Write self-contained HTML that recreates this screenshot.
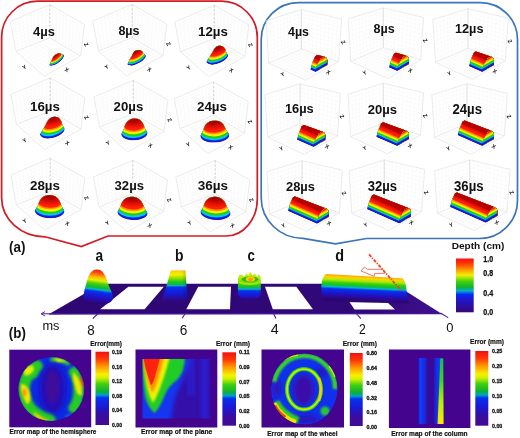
<!DOCTYPE html>
<html><head><meta charset="utf-8"><title>figure</title>
<style>
html,body{margin:0;padding:0;background:#fff;}
svg{display:block;font-family:"Liberation Sans",sans-serif;}
</style></head><body>
<svg width="520" height="438" viewBox="0 0 520 438">
<defs>
<radialGradient id="redg" cx="0.5" cy="0.3" r="0.55"><stop offset="0" stop-color="#980000"/><stop offset="0.5" stop-color="#d80c04"/><stop offset="1" stop-color="#ff2008"/></radialGradient>
<clipPath id="dc1"><path d="M-1.000,0.150 C-0.800,-0.280 -0.600,-0.630 -0.450,-0.868 C-0.300,-1.190 -0.200,-1.400 0.000,-1.400 C0.420,-1.400 0.660,-1.050 0.760,-0.588 C0.820,-0.350 0.910,-0.168 1.000,0.000 C1,0.55 0.55,1 0,1 C-0.500,1 -0.800,0.650 -1.000,0.150 Z"/></clipPath>
<clipPath id="dc2"><path d="M-1.000,0.188 C-0.772,-0.451 -0.545,-1.025 -0.372,-1.373 C-0.210,-1.794 -0.145,-2.050 -0.000,-2.050 C0.420,-2.050 0.660,-1.537 0.760,-0.861 C0.820,-0.512 0.910,-0.246 1.000,0.000 C1,0.55 0.55,1 0,1 C-0.488,1 -0.750,0.675 -1.000,0.188 Z"/></clipPath>
<clipPath id="dc3"><path d="M-1.000,0.135 C-0.811,-0.422 -0.622,-0.946 -0.481,-1.320 C-0.336,-1.848 -0.222,-2.200 -0.000,-2.200 C0.420,-2.200 0.660,-1.650 0.760,-0.924 C0.820,-0.550 0.910,-0.264 1.000,0.000 C1,0.55 0.55,1 0,1 C-0.505,1 -0.820,0.640 -1.000,0.135 Z"/></clipPath>
<clipPath id="dc4"><path d="M-1.000,0.090 C-0.844,-0.370 -0.688,-0.814 -0.574,-1.188 C-0.444,-1.782 -0.288,-2.200 -0.000,-2.200 C0.420,-2.200 0.660,-1.650 0.760,-0.924 C0.820,-0.550 0.910,-0.264 1.000,0.000 C1,0.55 0.55,1 0,1 C-0.520,1 -0.880,0.610 -1.000,0.090 Z"/></clipPath>
<clipPath id="dc5"><path d="M-1.000,0.000 C-0.910,-0.258 -0.820,-0.537 -0.760,-0.903 C-0.660,-1.612 -0.420,-2.150 0.000,-2.150 C0.420,-2.150 0.660,-1.612 0.760,-0.903 C0.820,-0.537 0.910,-0.258 1.000,0.000 C1,0.55 0.55,1 0,1 C-0.550,1 -1.000,0.550 -1.000,0.000 Z"/></clipPath>
<clipPath id="dc6"><path d="M-1.000,0.000 C-0.910,-0.240 -0.820,-0.500 -0.760,-0.840 C-0.660,-1.500 -0.420,-2.000 0.000,-2.000 C0.420,-2.000 0.660,-1.500 0.760,-0.840 C0.820,-0.500 0.910,-0.240 1.000,0.000 C1,0.55 0.55,1 0,1 C-0.550,1 -1.000,0.550 -1.000,0.000 Z"/></clipPath>
<clipPath id="dc7"><path d="M-1.000,0.000 C-0.910,-0.252 -0.820,-0.525 -0.760,-0.882 C-0.660,-1.575 -0.420,-2.100 0.000,-2.100 C0.420,-2.100 0.660,-1.575 0.760,-0.882 C0.820,-0.525 0.910,-0.252 1.000,0.000 C1,0.55 0.55,1 0,1 C-0.550,1 -1.000,0.550 -1.000,0.000 Z"/></clipPath>
<clipPath id="dc8"><path d="M-1.000,0.000 C-0.910,-0.248 -0.820,-0.517 -0.760,-0.869 C-0.660,-1.552 -0.420,-2.070 0.000,-2.070 C0.420,-2.070 0.660,-1.552 0.760,-0.869 C0.820,-0.517 0.910,-0.248 1.000,0.000 C1,0.55 0.55,1 0,1 C-0.550,1 -1.000,0.550 -1.000,0.000 Z"/></clipPath>
<clipPath id="dc9"><path d="M-1.000,0.000 C-0.910,-0.248 -0.820,-0.517 -0.760,-0.869 C-0.660,-1.552 -0.420,-2.070 0.000,-2.070 C0.420,-2.070 0.660,-1.552 0.760,-0.869 C0.820,-0.517 0.910,-0.248 1.000,0.000 C1,0.55 0.55,1 0,1 C-0.550,1 -1.000,0.550 -1.000,0.000 Z"/></clipPath>
<clipPath id="pc1"><polygon points="310.4,69.8 315.3,72.0 327.3,65.1 327.3,60.0 326.3,57.7 323.8,56.4 317.2,55.1 315.4,56.3 312.6,62.3"/></clipPath>
<clipPath id="pf1"><polygon points="315.3,72.0 327.3,65.1 327.3,60.0 326.3,57.7 323.8,56.4 321.3,58.2 317.8,63.8 315.6,69.0"/></clipPath>
<clipPath id="pc2"><polygon points="389.0,67.5 397.0,71.0 409.0,64.1 409.0,59.0 408.0,56.7 405.5,55.4 395.8,52.8 394.0,54.0 391.2,60.0"/></clipPath>
<clipPath id="pf2"><polygon points="397.0,71.0 409.0,64.1 409.0,59.0 408.0,56.7 405.5,55.4 403.0,57.2 399.5,62.8 397.3,68.0"/></clipPath>
<clipPath id="pc3"><polygon points="469.0,66.3 482.0,72.0 494.0,65.1 494.0,60.0 493.0,57.7 490.5,56.4 475.8,51.6 474.0,52.8 471.2,58.8"/></clipPath>
<clipPath id="pf3"><polygon points="482.0,72.0 494.0,65.1 494.0,60.0 493.0,57.7 490.5,56.4 488.0,58.2 484.5,63.8 482.3,69.0"/></clipPath>
<clipPath id="pc4"><polygon points="297.0,139.8 313.3,147.0 325.3,140.1 325.3,135.0 324.3,132.7 321.8,131.4 303.8,125.1 302.0,126.3 299.2,132.3"/></clipPath>
<clipPath id="pf4"><polygon points="313.3,147.0 325.3,140.1 325.3,135.0 324.3,132.7 321.8,131.4 319.3,133.2 315.8,138.8 313.6,144.0"/></clipPath>
<clipPath id="pc5"><polygon points="376.3,136.9 397.0,146.0 409.0,139.1 409.0,134.0 408.0,131.7 405.5,130.4 383.1,122.2 381.3,123.4 378.5,129.4"/></clipPath>
<clipPath id="pf5"><polygon points="397.0,146.0 409.0,139.1 409.0,134.0 408.0,131.7 405.5,130.4 403.0,132.2 399.5,137.8 397.3,143.0"/></clipPath>
<clipPath id="pc6"><polygon points="457.7,135.3 482.0,146.0 494.0,139.1 494.0,134.0 493.0,131.7 490.5,130.4 464.5,120.6 462.7,121.8 459.9,127.8"/></clipPath>
<clipPath id="pf6"><polygon points="482.0,146.0 494.0,139.1 494.0,134.0 493.0,131.7 490.5,130.4 488.0,132.2 484.5,137.8 482.3,143.0"/></clipPath>
<clipPath id="pc7"><polygon points="288.0,211.1 316.8,223.8 328.8,216.8 328.8,211.8 327.8,209.4 325.2,208.2 294.8,196.4 293.0,197.6 290.2,203.6"/></clipPath>
<clipPath id="pf7"><polygon points="316.8,223.8 328.8,216.8 328.8,211.8 327.8,209.4 325.2,208.2 322.8,209.9 319.2,215.6 317.1,220.8"/></clipPath>
<clipPath id="pc8"><polygon points="367.0,209.3 399.0,223.4 411.0,216.5 411.0,211.4 410.0,209.1 407.5,207.8 373.8,194.6 372.0,195.8 369.2,201.8"/></clipPath>
<clipPath id="pf8"><polygon points="399.0,223.4 411.0,216.5 411.0,211.4 410.0,209.1 407.5,207.8 405.0,209.6 401.5,215.2 399.3,220.4"/></clipPath>
<clipPath id="pc9"><polygon points="450.0,207.1 485.5,222.7 497.5,215.8 497.5,210.7 496.5,208.4 494.0,207.1 456.8,192.4 455.0,193.6 452.2,199.6"/></clipPath>
<clipPath id="pf9"><polygon points="485.5,222.7 497.5,215.8 497.5,210.7 496.5,208.4 494.0,207.1 491.5,208.9 488.0,214.5 485.8,219.7"/></clipPath>
<linearGradient id="planeg" x1="0" x2="1" y1="0" y2="0"><stop offset="0" stop-color="#2e0674"/><stop offset="0.8" stop-color="#300878"/><stop offset="1" stop-color="#40108c"/></linearGradient>
<linearGradient id="humpg" gradientUnits="userSpaceOnUse" x1="97" y1="269.5" x2="92.5" y2="304.5">
<stop offset="0" stop-color="#f02010"/><stop offset="0.10" stop-color="#ff5010"/><stop offset="0.20" stop-color="#ffb000"/><stop offset="0.30" stop-color="#e8f000"/>
<stop offset="0.40" stop-color="#40d010"/><stop offset="0.51" stop-color="#10b830"/><stop offset="0.56" stop-color="#00b8d0"/><stop offset="0.62" stop-color="#0830f0"/>
<stop offset="0.80" stop-color="#2010c0"/><stop offset="0.95" stop-color="#2e0674"/><stop offset="1" stop-color="#2e0674"/></linearGradient>
<linearGradient id="blkg" gradientUnits="userSpaceOnUse" x1="0" y1="270.4" x2="0" y2="302">
<stop offset="0" stop-color="#ffb000"/><stop offset="0.04" stop-color="#ffd800"/><stop offset="0.14" stop-color="#f0f000"/><stop offset="0.25" stop-color="#90e000"/><stop offset="0.36" stop-color="#20c820"/>
<stop offset="0.45" stop-color="#10b840"/><stop offset="0.48" stop-color="#00b0d0"/><stop offset="0.53" stop-color="#0830f0"/><stop offset="0.75" stop-color="#1818d0"/><stop offset="0.9" stop-color="#2c0c98"/><stop offset="1" stop-color="#2e0674"/></linearGradient>
<linearGradient id="blks" x1="0" x2="1" y1="0" y2="0"><stop offset="0" stop-color="#000" stop-opacity="0"/><stop offset="1" stop-color="#002040" stop-opacity="0.28"/></linearGradient>
<linearGradient id="cylg" gradientUnits="userSpaceOnUse" x1="0" y1="271.3" x2="0" y2="300">
<stop offset="0" stop-color="#d8f000"/><stop offset="0.25" stop-color="#b0ec00"/><stop offset="0.42" stop-color="#50d810"/><stop offset="0.55" stop-color="#10c030"/>
<stop offset="0.62" stop-color="#00b0d0"/><stop offset="0.68" stop-color="#0830f0"/><stop offset="0.88" stop-color="#1c14c8"/><stop offset="1" stop-color="#2e0674"/></linearGradient>
<linearGradient id="colg" gradientUnits="userSpaceOnUse" x1="360" y1="275.6" x2="358.7" y2="303.6">
<stop offset="0" stop-color="#ffa000"/><stop offset="0.10" stop-color="#f8d800"/><stop offset="0.19" stop-color="#b0e800"/><stop offset="0.29" stop-color="#30d010"/><stop offset="0.38" stop-color="#10c030"/>
<stop offset="0.44" stop-color="#00b8d0"/><stop offset="0.51" stop-color="#0830f0"/><stop offset="0.70" stop-color="#2010c0"/><stop offset="0.86" stop-color="#2e0674"/><stop offset="1" stop-color="#2e0674"/></linearGradient>
<linearGradient id="depthg" x1="0" x2="0" y1="0" y2="1">
<stop offset="0" stop-color="#f81010"/><stop offset="0.08" stop-color="#ff3008"/><stop offset="0.2" stop-color="#ff9000"/><stop offset="0.31" stop-color="#f0f000"/>
<stop offset="0.43" stop-color="#40d010"/><stop offset="0.54" stop-color="#10b030"/><stop offset="0.60" stop-color="#00b0d8"/><stop offset="0.67" stop-color="#0828f0"/>
<stop offset="0.82" stop-color="#2810b8"/><stop offset="1" stop-color="#380878"/></linearGradient>
<linearGradient id="errg" x1="0" x2="0" y1="0" y2="1">
<stop offset="0" stop-color="#f01010"/><stop offset="0.10" stop-color="#ff3808"/><stop offset="0.20" stop-color="#ff9800"/><stop offset="0.31" stop-color="#f8f000"/><stop offset="0.36" stop-color="#d0f000"/>
<stop offset="0.44" stop-color="#40d010"/><stop offset="0.54" stop-color="#10b030"/><stop offset="0.59" stop-color="#00a0c8"/><stop offset="0.63" stop-color="#0830f0"/>
<stop offset="0.76" stop-color="#1c18d0"/><stop offset="0.87" stop-color="#3a0ca0"/><stop offset="1" stop-color="#440a94"/></linearGradient>
<filter id="b15" x="-30%" y="-30%" width="160%" height="160%"><feGaussianBlur stdDeviation="1.6"/></filter>
<filter id="b1" x="-30%" y="-30%" width="160%" height="160%"><feGaussianBlur stdDeviation="1.2"/></filter>
<filter id="b2" x="-30%" y="-30%" width="160%" height="160%"><feGaussianBlur stdDeviation="2.2"/></filter>
<filter id="b3" x="-30%" y="-30%" width="160%" height="160%"><feGaussianBlur stdDeviation="0.7"/></filter>

<clipPath id="c1"><ellipse cx="51.3" cy="389" rx="33" ry="32"/></clipPath>
<clipPath id="c2"><rect x="142.5" y="359" width="68.1" height="59.5"/></clipPath>
<clipPath id="c3"><ellipse cx="304.3" cy="389" rx="33.3" ry="35.6"/></clipPath>
<linearGradient id="bar1" x1="0" x2="1" y1="0" y2="0"><stop offset="0" stop-color="#2418c4"/><stop offset="0.18" stop-color="#0c40fc"/><stop offset="0.6" stop-color="#1430e8"/><stop offset="1" stop-color="#3012ac"/></linearGradient>
<linearGradient id="bar2" x1="0" x2="1" y1="0" y2="0"><stop offset="0" stop-color="#2816bc"/><stop offset="0.3" stop-color="#1430e8"/><stop offset="0.7" stop-color="#0c44fc"/><stop offset="1" stop-color="#1a30e0"/></linearGradient>
<linearGradient id="wedge" x1="0" x2="0" y1="0" y2="1"><stop offset="0" stop-color="#18c040"/><stop offset="0.35" stop-color="#40d418"/><stop offset="0.65" stop-color="#b8ec00"/><stop offset="1" stop-color="#ffe800"/></linearGradient>
</defs>
<rect width="520" height="438" fill="#fff"/>
<path d="M37.6,1.2 L221.3,1.2 A36,36 0 0 1 257.3,37.2 L257.3,199 A31,37 0 0 1 226.3,236 L108,236 L81.3,246.5 L45,236.8 A43.4,39 0 0 1 1.6,197.8 L1.6,37.2 A36,36 0 0 1 37.6,1.2 Z" fill="none" stroke="#d41a24" stroke-width="1.7"/>
<path d="M298.2,2.6 L480.5,2.6 A37,37 0 0 1 517.5,39.6 L517.5,200.5 A38,38 0 0 1 479.5,238.5 L366.5,238.5 L335.4,243.8 L303,238.3 A41.8,40.3 0 0 1 261.2,198 L261.2,39.6 A37,37 0 0 1 298.2,2.6 Z" fill="none" stroke="#3a76b8" stroke-width="1.7"/>
<path d="M45.9,6.3L46.4,39.2M49.8,7.9L11.0,24.4M41.9,8.0L43.0,40.6M49.8,11.3L11.5,27.4M38.0,9.6L39.7,41.9M49.8,14.6L12.1,30.4M34.0,11.3L36.3,43.3M49.8,17.9L12.6,33.4M30.1,13.0L32.9,44.6M49.8,21.2L13.2,36.4M26.2,14.7L29.5,45.9M49.8,24.6L13.8,39.3M22.2,16.4L26.1,47.3M49.8,27.9L14.3,42.3M18.3,18.0L22.8,48.6M49.8,31.2L14.9,45.3M14.3,19.7L19.4,50.0M49.8,34.6L15.4,48.3" stroke="#f6f6f6" stroke-width="0.45" fill="none"/>
<path d="M53.3,6.6L52.9,39.7M49.8,7.9L84.0,27.6M56.7,8.6L56.0,41.5M49.8,11.3L83.6,30.7M60.2,10.5L59.0,43.3M49.8,14.6L83.3,33.9M63.6,12.5L62.1,45.1M49.8,17.9L82.9,37.0M67.1,14.5L65.2,47.0M49.8,21.2L82.5,40.2M70.6,16.5L68.3,48.8M49.8,24.6L82.1,43.4M74.0,18.5L71.4,50.6M49.8,27.9L81.7,46.5M77.5,20.4L74.4,52.4M49.8,31.2L81.4,49.7M80.9,22.4L77.5,54.2M49.8,34.6L81.0,52.8" stroke="#f6f6f6" stroke-width="0.45" fill="none"/>
<path d="M46.4,39.2L77.0,58.0M52.9,39.7L18.8,53.8M43.0,40.6L73.3,60.1M56.0,41.5L21.6,56.3M39.7,41.9L69.7,62.1M59.0,43.3L24.5,58.8M36.3,43.3L66.0,64.1M62.1,45.1L27.3,61.3M32.9,44.6L62.4,66.2M65.2,47.0L30.1,63.8M29.5,45.9L58.8,68.2M68.3,48.8L32.9,66.3M26.1,47.3L55.1,70.2M71.4,50.6L35.7,68.8M22.8,48.6L51.5,72.2M74.4,52.4L38.6,71.3M19.4,50.0L47.8,74.3M77.5,54.2L41.4,73.8" stroke="#f6f6f6" stroke-width="0.45" fill="none"/>
<line x1="49.8" y1="4.6" x2="10.4" y2="21.4" stroke="#e2e2e2" stroke-width="0.7"/>
<line x1="49.8" y1="4.6" x2="84.4" y2="24.4" stroke="#e2e2e2" stroke-width="0.7"/>
<line x1="10.4" y1="21.4" x2="16.0" y2="51.3" stroke="#e2e2e2" stroke-width="0.7"/>
<line x1="84.4" y1="24.4" x2="80.6" y2="56.0" stroke="#e2e2e2" stroke-width="0.7"/>
<line x1="16.0" y1="51.3" x2="44.2" y2="76.3" stroke="#e2e2e2" stroke-width="0.7"/>
<line x1="80.6" y1="56.0" x2="44.2" y2="76.3" stroke="#e2e2e2" stroke-width="0.7"/>
<line x1="49.8" y1="37.9" x2="16.0" y2="51.3" stroke="#e2e2e2" stroke-width="0.7"/>
<line x1="49.8" y1="37.9" x2="80.6" y2="56.0" stroke="#e2e2e2" stroke-width="0.7"/>
<line x1="49.8" y1="4.6" x2="49.8" y2="37.9" stroke="#c4c4c4" stroke-width="0.8" stroke-dasharray="2.5 1.5"/>
<text x="0" y="1.95" font-size="5.5" font-weight="bold" fill="#111" text-anchor="middle" transform="translate(24.3,67.2) rotate(-30)">Y</text>
<text x="0" y="1.95" font-size="5.5" font-weight="bold" fill="#111" text-anchor="middle" transform="translate(66.8,69.8) rotate(30)">X</text>
<text x="0" y="1.95" font-size="5.5" font-weight="bold" fill="#111" text-anchor="middle" transform="translate(86.2,44.4) rotate(60)">Z</text>
<path d="M128.3,6.0L128.8,38.9M132.2,7.6L93.4,24.1M124.3,7.7L125.4,40.3M132.2,11.0L93.9,27.1M120.4,9.3L122.1,41.6M132.2,14.3L94.5,30.1M116.4,11.0L118.7,43.0M132.2,17.6L95.0,33.1M112.5,12.7L115.3,44.3M132.2,20.9L95.6,36.0M108.6,14.4L111.9,45.6M132.2,24.3L96.2,39.0M104.6,16.1L108.5,47.0M132.2,27.6L96.7,42.0M100.7,17.7L105.2,48.3M132.2,30.9L97.3,45.0M96.7,19.4L101.8,49.7M132.2,34.3L97.8,48.0" stroke="#f6f6f6" stroke-width="0.45" fill="none"/>
<path d="M135.7,6.3L135.3,39.4M132.2,7.6L166.4,27.3M139.1,8.3L138.4,41.2M132.2,11.0L166.0,30.4M142.6,10.2L141.4,43.0M132.2,14.3L165.7,33.6M146.0,12.2L144.5,44.8M132.2,17.6L165.3,36.7M149.5,14.2L147.6,46.6M132.2,20.9L164.9,39.9M153.0,16.2L150.7,48.5M132.2,24.3L164.5,43.1M156.4,18.2L153.8,50.3M132.2,27.6L164.1,46.2M159.9,20.1L156.8,52.1M132.2,30.9L163.8,49.4M163.3,22.1L159.9,53.9M132.2,34.3L163.4,52.5" stroke="#f6f6f6" stroke-width="0.45" fill="none"/>
<path d="M128.8,38.9L159.4,57.7M135.3,39.4L101.2,53.5M125.4,40.3L155.7,59.8M138.4,41.2L104.0,56.0M122.1,41.6L152.1,61.8M141.4,43.0L106.9,58.5M118.7,43.0L148.4,63.8M144.5,44.8L109.7,61.0M115.3,44.3L144.8,65.8M147.6,46.6L112.5,63.5M111.9,45.6L141.2,67.9M150.7,48.5L115.3,66.0M108.5,47.0L137.5,69.9M153.8,50.3L118.1,68.5M105.2,48.3L133.9,71.9M156.8,52.1L121.0,71.0M101.8,49.7L130.2,74.0M159.9,53.9L123.8,73.5" stroke="#f6f6f6" stroke-width="0.45" fill="none"/>
<line x1="132.2" y1="4.3" x2="92.8" y2="21.1" stroke="#e2e2e2" stroke-width="0.7"/>
<line x1="132.2" y1="4.3" x2="166.8" y2="24.1" stroke="#e2e2e2" stroke-width="0.7"/>
<line x1="92.8" y1="21.1" x2="98.4" y2="51.0" stroke="#e2e2e2" stroke-width="0.7"/>
<line x1="166.8" y1="24.1" x2="163.0" y2="55.7" stroke="#e2e2e2" stroke-width="0.7"/>
<line x1="98.4" y1="51.0" x2="126.6" y2="76.0" stroke="#e2e2e2" stroke-width="0.7"/>
<line x1="163.0" y1="55.7" x2="126.6" y2="76.0" stroke="#e2e2e2" stroke-width="0.7"/>
<line x1="132.2" y1="37.6" x2="98.4" y2="51.0" stroke="#e2e2e2" stroke-width="0.7"/>
<line x1="132.2" y1="37.6" x2="163.0" y2="55.7" stroke="#e2e2e2" stroke-width="0.7"/>
<line x1="132.2" y1="4.3" x2="132.2" y2="37.6" stroke="#c4c4c4" stroke-width="0.8" stroke-dasharray="2.5 1.5"/>
<text x="0" y="1.95" font-size="5.5" font-weight="bold" fill="#111" text-anchor="middle" transform="translate(106.7,66.9) rotate(-30)">Y</text>
<text x="0" y="1.95" font-size="5.5" font-weight="bold" fill="#111" text-anchor="middle" transform="translate(149.2,69.5) rotate(30)">X</text>
<text x="0" y="1.95" font-size="5.5" font-weight="bold" fill="#111" text-anchor="middle" transform="translate(168.6,44.1) rotate(60)">Z</text>
<path d="M210.3,6.8L210.8,39.7M214.2,8.4L175.4,24.9M206.3,8.5L207.4,41.1M214.2,11.8L175.9,27.9M202.4,10.1L204.1,42.4M214.2,15.1L176.5,30.9M198.4,11.8L200.7,43.8M214.2,18.4L177.0,33.9M194.5,13.5L197.3,45.1M214.2,21.8L177.6,36.9M190.6,15.2L193.9,46.4M214.2,25.1L178.2,39.8M186.6,16.9L190.5,47.8M214.2,28.4L178.7,42.8M182.7,18.5L187.2,49.1M214.2,31.7L179.3,45.8M178.7,20.2L183.8,50.5M214.2,35.1L179.8,48.8" stroke="#f6f6f6" stroke-width="0.45" fill="none"/>
<path d="M217.7,7.1L217.3,40.2M214.2,8.4L248.4,28.1M221.1,9.1L220.4,42.0M214.2,11.8L248.0,31.2M224.6,11.0L223.4,43.8M214.2,15.1L247.7,34.4M228.0,13.0L226.5,45.6M214.2,18.4L247.3,37.5M231.5,15.0L229.6,47.5M214.2,21.8L246.9,40.7M235.0,17.0L232.7,49.3M214.2,25.1L246.5,43.9M238.4,19.0L235.8,51.1M214.2,28.4L246.1,47.0M241.9,20.9L238.8,52.9M214.2,31.7L245.8,50.2M245.3,22.9L241.9,54.7M214.2,35.1L245.4,53.3" stroke="#f6f6f6" stroke-width="0.45" fill="none"/>
<path d="M210.8,39.7L241.4,58.5M217.3,40.2L183.2,54.3M207.4,41.1L237.7,60.6M220.4,42.0L186.0,56.8M204.1,42.4L234.1,62.6M223.4,43.8L188.9,59.3M200.7,43.8L230.4,64.6M226.5,45.6L191.7,61.8M197.3,45.1L226.8,66.7M229.6,47.5L194.5,64.3M193.9,46.4L223.2,68.7M232.7,49.3L197.3,66.8M190.5,47.8L219.5,70.7M235.8,51.1L200.1,69.3M187.2,49.1L215.9,72.7M238.8,52.9L203.0,71.8M183.8,50.5L212.2,74.8M241.9,54.7L205.8,74.3" stroke="#f6f6f6" stroke-width="0.45" fill="none"/>
<line x1="214.2" y1="5.1" x2="174.8" y2="21.9" stroke="#e2e2e2" stroke-width="0.7"/>
<line x1="214.2" y1="5.1" x2="248.8" y2="24.9" stroke="#e2e2e2" stroke-width="0.7"/>
<line x1="174.8" y1="21.9" x2="180.4" y2="51.8" stroke="#e2e2e2" stroke-width="0.7"/>
<line x1="248.8" y1="24.9" x2="245.0" y2="56.5" stroke="#e2e2e2" stroke-width="0.7"/>
<line x1="180.4" y1="51.8" x2="208.6" y2="76.8" stroke="#e2e2e2" stroke-width="0.7"/>
<line x1="245.0" y1="56.5" x2="208.6" y2="76.8" stroke="#e2e2e2" stroke-width="0.7"/>
<line x1="214.2" y1="38.4" x2="180.4" y2="51.8" stroke="#e2e2e2" stroke-width="0.7"/>
<line x1="214.2" y1="38.4" x2="245.0" y2="56.5" stroke="#e2e2e2" stroke-width="0.7"/>
<line x1="214.2" y1="5.1" x2="214.2" y2="38.4" stroke="#c4c4c4" stroke-width="0.8" stroke-dasharray="2.5 1.5"/>
<text x="0" y="1.95" font-size="5.5" font-weight="bold" fill="#111" text-anchor="middle" transform="translate(188.7,67.7) rotate(-30)">Y</text>
<text x="0" y="1.95" font-size="5.5" font-weight="bold" fill="#111" text-anchor="middle" transform="translate(231.2,70.3) rotate(30)">X</text>
<text x="0" y="1.95" font-size="5.5" font-weight="bold" fill="#111" text-anchor="middle" transform="translate(250.6,44.9) rotate(60)">Z</text>
<path d="M46.3,79.5L46.8,112.4M50.2,81.1L11.4,97.6M42.3,81.2L43.4,113.8M50.2,84.5L11.9,100.6M38.4,82.8L40.1,115.1M50.2,87.8L12.5,103.6M34.4,84.5L36.7,116.5M50.2,91.1L13.0,106.6M30.5,86.2L33.3,117.8M50.2,94.4L13.6,109.5M26.6,87.9L29.9,119.1M50.2,97.8L14.2,112.5M22.6,89.6L26.5,120.5M50.2,101.1L14.7,115.5M18.7,91.2L23.2,121.8M50.2,104.4L15.3,118.5M14.7,92.9L19.8,123.2M50.2,107.8L15.8,121.5" stroke="#f6f6f6" stroke-width="0.45" fill="none"/>
<path d="M53.7,79.8L53.3,112.9M50.2,81.1L84.4,100.8M57.1,81.8L56.4,114.7M50.2,84.5L84.0,103.9M60.6,83.7L59.4,116.5M50.2,87.8L83.7,107.1M64.0,85.7L62.5,118.3M50.2,91.1L83.3,110.2M67.5,87.7L65.6,120.1M50.2,94.4L82.9,113.4M71.0,89.7L68.7,122.0M50.2,97.8L82.5,116.6M74.4,91.7L71.8,123.8M50.2,101.1L82.1,119.7M77.9,93.6L74.8,125.6M50.2,104.4L81.8,122.9M81.3,95.6L77.9,127.4M50.2,107.8L81.4,126.0" stroke="#f6f6f6" stroke-width="0.45" fill="none"/>
<path d="M46.8,112.4L77.4,131.2M53.3,112.9L19.2,127.0M43.4,113.8L73.7,133.3M56.4,114.7L22.0,129.5M40.1,115.1L70.1,135.3M59.4,116.5L24.9,132.0M36.7,116.5L66.4,137.3M62.5,118.3L27.7,134.5M33.3,117.8L62.8,139.3M65.6,120.1L30.5,137.0M29.9,119.1L59.2,141.4M68.7,122.0L33.3,139.5M26.5,120.5L55.5,143.4M71.8,123.8L36.1,142.0M23.2,121.8L51.9,145.4M74.8,125.6L39.0,144.5M19.8,123.2L48.2,147.5M77.9,127.4L41.8,147.0" stroke="#f6f6f6" stroke-width="0.45" fill="none"/>
<line x1="50.2" y1="77.8" x2="10.8" y2="94.6" stroke="#e2e2e2" stroke-width="0.7"/>
<line x1="50.2" y1="77.8" x2="84.8" y2="97.6" stroke="#e2e2e2" stroke-width="0.7"/>
<line x1="10.8" y1="94.6" x2="16.4" y2="124.5" stroke="#e2e2e2" stroke-width="0.7"/>
<line x1="84.8" y1="97.6" x2="81.0" y2="129.2" stroke="#e2e2e2" stroke-width="0.7"/>
<line x1="16.4" y1="124.5" x2="44.6" y2="149.5" stroke="#e2e2e2" stroke-width="0.7"/>
<line x1="81.0" y1="129.2" x2="44.6" y2="149.5" stroke="#e2e2e2" stroke-width="0.7"/>
<line x1="50.2" y1="111.1" x2="16.4" y2="124.5" stroke="#e2e2e2" stroke-width="0.7"/>
<line x1="50.2" y1="111.1" x2="81.0" y2="129.2" stroke="#e2e2e2" stroke-width="0.7"/>
<line x1="50.2" y1="77.8" x2="50.2" y2="111.1" stroke="#c4c4c4" stroke-width="0.8" stroke-dasharray="2.5 1.5"/>
<text x="0" y="1.95" font-size="5.5" font-weight="bold" fill="#111" text-anchor="middle" transform="translate(24.7,140.4) rotate(-30)">Y</text>
<text x="0" y="1.95" font-size="5.5" font-weight="bold" fill="#111" text-anchor="middle" transform="translate(67.2,143.0) rotate(30)">X</text>
<text x="0" y="1.95" font-size="5.5" font-weight="bold" fill="#111" text-anchor="middle" transform="translate(86.6,117.6) rotate(60)">Z</text>
<path d="M129.4,81.9L129.9,114.8M133.3,83.5L94.5,100.0M125.4,83.6L126.5,116.2M133.3,86.9L95.0,103.0M121.5,85.2L123.2,117.5M133.3,90.2L95.6,106.0M117.5,86.9L119.8,118.9M133.3,93.5L96.1,109.0M113.6,88.6L116.4,120.2M133.3,96.8L96.7,112.0M109.7,90.3L113.0,121.5M133.3,100.2L97.3,114.9M105.7,92.0L109.6,122.9M133.3,103.5L97.8,117.9M101.8,93.6L106.3,124.2M133.3,106.8L98.4,120.9M97.8,95.3L102.9,125.6M133.3,110.2L98.9,123.9" stroke="#f6f6f6" stroke-width="0.45" fill="none"/>
<path d="M136.8,82.2L136.4,115.3M133.3,83.5L167.5,103.2M140.2,84.2L139.5,117.1M133.3,86.9L167.1,106.3M143.7,86.1L142.5,118.9M133.3,90.2L166.8,109.5M147.1,88.1L145.6,120.7M133.3,93.5L166.4,112.6M150.6,90.1L148.7,122.5M133.3,96.8L166.0,115.8M154.1,92.1L151.8,124.4M133.3,100.2L165.6,119.0M157.5,94.1L154.9,126.2M133.3,103.5L165.2,122.1M161.0,96.0L157.9,128.0M133.3,106.8L164.9,125.3M164.4,98.0L161.0,129.8M133.3,110.2L164.5,128.4" stroke="#f6f6f6" stroke-width="0.45" fill="none"/>
<path d="M129.9,114.8L160.5,133.6M136.4,115.3L102.3,129.4M126.5,116.2L156.8,135.7M139.5,117.1L105.1,131.9M123.2,117.5L153.2,137.7M142.5,118.9L108.0,134.4M119.8,118.9L149.5,139.7M145.6,120.7L110.8,136.9M116.4,120.2L145.9,141.8M148.7,122.5L113.6,139.4M113.0,121.5L142.3,143.8M151.8,124.4L116.4,141.9M109.6,122.9L138.6,145.8M154.9,126.2L119.2,144.4M106.3,124.2L135.0,147.8M157.9,128.0L122.1,146.9M102.9,125.6L131.3,149.9M161.0,129.8L124.9,149.4" stroke="#f6f6f6" stroke-width="0.45" fill="none"/>
<line x1="133.3" y1="80.2" x2="93.9" y2="97.0" stroke="#e2e2e2" stroke-width="0.7"/>
<line x1="133.3" y1="80.2" x2="167.9" y2="100.0" stroke="#e2e2e2" stroke-width="0.7"/>
<line x1="93.9" y1="97.0" x2="99.5" y2="126.9" stroke="#e2e2e2" stroke-width="0.7"/>
<line x1="167.9" y1="100.0" x2="164.1" y2="131.6" stroke="#e2e2e2" stroke-width="0.7"/>
<line x1="99.5" y1="126.9" x2="127.7" y2="151.9" stroke="#e2e2e2" stroke-width="0.7"/>
<line x1="164.1" y1="131.6" x2="127.7" y2="151.9" stroke="#e2e2e2" stroke-width="0.7"/>
<line x1="133.3" y1="113.5" x2="99.5" y2="126.9" stroke="#e2e2e2" stroke-width="0.7"/>
<line x1="133.3" y1="113.5" x2="164.1" y2="131.6" stroke="#e2e2e2" stroke-width="0.7"/>
<line x1="133.3" y1="80.2" x2="133.3" y2="113.5" stroke="#c4c4c4" stroke-width="0.8" stroke-dasharray="2.5 1.5"/>
<text x="0" y="1.95" font-size="5.5" font-weight="bold" fill="#111" text-anchor="middle" transform="translate(107.8,142.8) rotate(-30)">Y</text>
<text x="0" y="1.95" font-size="5.5" font-weight="bold" fill="#111" text-anchor="middle" transform="translate(150.3,145.4) rotate(30)">X</text>
<text x="0" y="1.95" font-size="5.5" font-weight="bold" fill="#111" text-anchor="middle" transform="translate(169.7,120.0) rotate(60)">Z</text>
<path d="M209.7,83.6L210.2,116.5M213.6,85.2L174.8,101.7M205.7,85.3L206.8,117.9M213.6,88.6L175.3,104.7M201.8,86.9L203.5,119.2M213.6,91.9L175.9,107.7M197.8,88.6L200.1,120.6M213.6,95.2L176.4,110.7M193.9,90.3L196.7,121.9M213.6,98.6L177.0,113.7M190.0,92.0L193.3,123.2M213.6,101.9L177.6,116.6M186.0,93.7L189.9,124.6M213.6,105.2L178.1,119.6M182.1,95.3L186.6,125.9M213.6,108.5L178.7,122.6M178.1,97.0L183.2,127.3M213.6,111.9L179.2,125.6" stroke="#f6f6f6" stroke-width="0.45" fill="none"/>
<path d="M217.1,83.9L216.7,117.0M213.6,85.2L247.8,104.9M220.5,85.9L219.8,118.8M213.6,88.6L247.4,108.0M224.0,87.8L222.8,120.6M213.6,91.9L247.1,111.2M227.4,89.8L225.9,122.4M213.6,95.2L246.7,114.3M230.9,91.8L229.0,124.2M213.6,98.6L246.3,117.5M234.4,93.8L232.1,126.1M213.6,101.9L245.9,120.7M237.8,95.8L235.2,127.9M213.6,105.2L245.5,123.8M241.3,97.7L238.2,129.7M213.6,108.5L245.2,127.0M244.7,99.7L241.3,131.5M213.6,111.9L244.8,130.1" stroke="#f6f6f6" stroke-width="0.45" fill="none"/>
<path d="M210.2,116.5L240.8,135.3M216.7,117.0L182.6,131.1M206.8,117.9L237.1,137.4M219.8,118.8L185.4,133.6M203.5,119.2L233.5,139.4M222.8,120.6L188.3,136.1M200.1,120.6L229.8,141.4M225.9,122.4L191.1,138.6M196.7,121.9L226.2,143.5M229.0,124.2L193.9,141.1M193.3,123.2L222.6,145.5M232.1,126.1L196.7,143.6M189.9,124.6L218.9,147.5M235.2,127.9L199.5,146.1M186.6,125.9L215.3,149.5M238.2,129.7L202.4,148.6M183.2,127.3L211.6,151.6M241.3,131.5L205.2,151.1" stroke="#f6f6f6" stroke-width="0.45" fill="none"/>
<line x1="213.6" y1="81.9" x2="174.2" y2="98.7" stroke="#e2e2e2" stroke-width="0.7"/>
<line x1="213.6" y1="81.9" x2="248.2" y2="101.7" stroke="#e2e2e2" stroke-width="0.7"/>
<line x1="174.2" y1="98.7" x2="179.8" y2="128.6" stroke="#e2e2e2" stroke-width="0.7"/>
<line x1="248.2" y1="101.7" x2="244.4" y2="133.3" stroke="#e2e2e2" stroke-width="0.7"/>
<line x1="179.8" y1="128.6" x2="208.0" y2="153.6" stroke="#e2e2e2" stroke-width="0.7"/>
<line x1="244.4" y1="133.3" x2="208.0" y2="153.6" stroke="#e2e2e2" stroke-width="0.7"/>
<line x1="213.6" y1="115.2" x2="179.8" y2="128.6" stroke="#e2e2e2" stroke-width="0.7"/>
<line x1="213.6" y1="115.2" x2="244.4" y2="133.3" stroke="#e2e2e2" stroke-width="0.7"/>
<line x1="213.6" y1="81.9" x2="213.6" y2="115.2" stroke="#c4c4c4" stroke-width="0.8" stroke-dasharray="2.5 1.5"/>
<text x="0" y="1.95" font-size="5.5" font-weight="bold" fill="#111" text-anchor="middle" transform="translate(188.1,144.5) rotate(-30)">Y</text>
<text x="0" y="1.95" font-size="5.5" font-weight="bold" fill="#111" text-anchor="middle" transform="translate(230.6,147.1) rotate(30)">X</text>
<text x="0" y="1.95" font-size="5.5" font-weight="bold" fill="#111" text-anchor="middle" transform="translate(250.0,121.7) rotate(60)">Z</text>
<path d="M46.3,159.9L46.8,192.8M50.2,161.5L11.4,178.0M42.3,161.6L43.4,194.2M50.2,164.9L11.9,181.0M38.4,163.2L40.1,195.5M50.2,168.2L12.5,184.0M34.4,164.9L36.7,196.9M50.2,171.5L13.0,187.0M30.5,166.6L33.3,198.2M50.2,174.8L13.6,189.9M26.6,168.3L29.9,199.5M50.2,178.2L14.2,192.9M22.6,170.0L26.5,200.9M50.2,181.5L14.7,195.9M18.7,171.6L23.2,202.2M50.2,184.8L15.3,198.9M14.7,173.3L19.8,203.6M50.2,188.2L15.8,201.9" stroke="#f6f6f6" stroke-width="0.45" fill="none"/>
<path d="M53.7,160.2L53.3,193.3M50.2,161.5L84.4,181.2M57.1,162.2L56.4,195.1M50.2,164.9L84.0,184.3M60.6,164.1L59.4,196.9M50.2,168.2L83.7,187.5M64.0,166.1L62.5,198.7M50.2,171.5L83.3,190.6M67.5,168.1L65.6,200.6M50.2,174.8L82.9,193.8M71.0,170.1L68.7,202.4M50.2,178.2L82.5,197.0M74.4,172.1L71.8,204.2M50.2,181.5L82.1,200.1M77.9,174.0L74.8,206.0M50.2,184.8L81.8,203.3M81.3,176.0L77.9,207.8M50.2,188.2L81.4,206.4" stroke="#f6f6f6" stroke-width="0.45" fill="none"/>
<path d="M46.8,192.8L77.4,211.6M53.3,193.3L19.2,207.4M43.4,194.2L73.7,213.7M56.4,195.1L22.0,209.9M40.1,195.5L70.1,215.7M59.4,196.9L24.9,212.4M36.7,196.9L66.4,217.7M62.5,198.7L27.7,214.9M33.3,198.2L62.8,219.8M65.6,200.6L30.5,217.4M29.9,199.5L59.2,221.8M68.7,202.4L33.3,219.9M26.5,200.9L55.5,223.8M71.8,204.2L36.1,222.4M23.2,202.2L51.9,225.8M74.8,206.0L39.0,224.9M19.8,203.6L48.2,227.9M77.9,207.8L41.8,227.4" stroke="#f6f6f6" stroke-width="0.45" fill="none"/>
<line x1="50.2" y1="158.2" x2="10.8" y2="175.0" stroke="#e2e2e2" stroke-width="0.7"/>
<line x1="50.2" y1="158.2" x2="84.8" y2="178.0" stroke="#e2e2e2" stroke-width="0.7"/>
<line x1="10.8" y1="175.0" x2="16.4" y2="204.9" stroke="#e2e2e2" stroke-width="0.7"/>
<line x1="84.8" y1="178.0" x2="81.0" y2="209.6" stroke="#e2e2e2" stroke-width="0.7"/>
<line x1="16.4" y1="204.9" x2="44.6" y2="229.9" stroke="#e2e2e2" stroke-width="0.7"/>
<line x1="81.0" y1="209.6" x2="44.6" y2="229.9" stroke="#e2e2e2" stroke-width="0.7"/>
<line x1="50.2" y1="191.5" x2="16.4" y2="204.9" stroke="#e2e2e2" stroke-width="0.7"/>
<line x1="50.2" y1="191.5" x2="81.0" y2="209.6" stroke="#e2e2e2" stroke-width="0.7"/>
<line x1="50.2" y1="158.2" x2="50.2" y2="191.5" stroke="#c4c4c4" stroke-width="0.8" stroke-dasharray="2.5 1.5"/>
<text x="0" y="1.95" font-size="5.5" font-weight="bold" fill="#111" text-anchor="middle" transform="translate(24.7,220.8) rotate(-30)">Y</text>
<text x="0" y="1.95" font-size="5.5" font-weight="bold" fill="#111" text-anchor="middle" transform="translate(67.2,223.4) rotate(30)">X</text>
<text x="0" y="1.95" font-size="5.5" font-weight="bold" fill="#111" text-anchor="middle" transform="translate(86.6,198.0) rotate(60)">Z</text>
<path d="M128.9,161.9L129.4,194.8M132.8,163.5L94.0,180.0M124.9,163.6L126.0,196.2M132.8,166.9L94.5,183.0M121.0,165.2L122.7,197.5M132.8,170.2L95.1,186.0M117.0,166.9L119.3,198.9M132.8,173.5L95.6,189.0M113.1,168.6L115.9,200.2M132.8,176.8L96.2,191.9M109.2,170.3L112.5,201.5M132.8,180.2L96.8,194.9M105.2,172.0L109.1,202.9M132.8,183.5L97.3,197.9M101.3,173.6L105.8,204.2M132.8,186.8L97.9,200.9M97.3,175.3L102.4,205.6M132.8,190.2L98.4,203.9" stroke="#f6f6f6" stroke-width="0.45" fill="none"/>
<path d="M136.3,162.2L135.9,195.3M132.8,163.5L167.0,183.2M139.7,164.2L139.0,197.1M132.8,166.9L166.6,186.3M143.2,166.1L142.0,198.9M132.8,170.2L166.3,189.5M146.6,168.1L145.1,200.7M132.8,173.5L165.9,192.6M150.1,170.1L148.2,202.6M132.8,176.8L165.5,195.8M153.6,172.1L151.3,204.4M132.8,180.2L165.1,199.0M157.0,174.1L154.4,206.2M132.8,183.5L164.7,202.1M160.5,176.0L157.4,208.0M132.8,186.8L164.4,205.3M163.9,178.0L160.5,209.8M132.8,190.2L164.0,208.4" stroke="#f6f6f6" stroke-width="0.45" fill="none"/>
<path d="M129.4,194.8L160.0,213.6M135.9,195.3L101.8,209.4M126.0,196.2L156.3,215.7M139.0,197.1L104.6,211.9M122.7,197.5L152.7,217.7M142.0,198.9L107.5,214.4M119.3,198.9L149.0,219.7M145.1,200.7L110.3,216.9M115.9,200.2L145.4,221.8M148.2,202.6L113.1,219.4M112.5,201.5L141.8,223.8M151.3,204.4L115.9,221.9M109.1,202.9L138.1,225.8M154.4,206.2L118.7,224.4M105.8,204.2L134.5,227.8M157.4,208.0L121.6,226.9M102.4,205.6L130.8,229.9M160.5,209.8L124.4,229.4" stroke="#f6f6f6" stroke-width="0.45" fill="none"/>
<line x1="132.8" y1="160.2" x2="93.4" y2="177.0" stroke="#e2e2e2" stroke-width="0.7"/>
<line x1="132.8" y1="160.2" x2="167.4" y2="180.0" stroke="#e2e2e2" stroke-width="0.7"/>
<line x1="93.4" y1="177.0" x2="99.0" y2="206.9" stroke="#e2e2e2" stroke-width="0.7"/>
<line x1="167.4" y1="180.0" x2="163.6" y2="211.6" stroke="#e2e2e2" stroke-width="0.7"/>
<line x1="99.0" y1="206.9" x2="127.2" y2="231.9" stroke="#e2e2e2" stroke-width="0.7"/>
<line x1="163.6" y1="211.6" x2="127.2" y2="231.9" stroke="#e2e2e2" stroke-width="0.7"/>
<line x1="132.8" y1="193.5" x2="99.0" y2="206.9" stroke="#e2e2e2" stroke-width="0.7"/>
<line x1="132.8" y1="193.5" x2="163.6" y2="211.6" stroke="#e2e2e2" stroke-width="0.7"/>
<line x1="132.8" y1="160.2" x2="132.8" y2="193.5" stroke="#c4c4c4" stroke-width="0.8" stroke-dasharray="2.5 1.5"/>
<text x="0" y="1.95" font-size="5.5" font-weight="bold" fill="#111" text-anchor="middle" transform="translate(107.3,222.8) rotate(-30)">Y</text>
<text x="0" y="1.95" font-size="5.5" font-weight="bold" fill="#111" text-anchor="middle" transform="translate(149.8,225.4) rotate(30)">X</text>
<text x="0" y="1.95" font-size="5.5" font-weight="bold" fill="#111" text-anchor="middle" transform="translate(169.2,200.0) rotate(60)">Z</text>
<path d="M211.3,162.0L211.8,194.9M215.2,163.6L176.4,180.1M207.3,163.7L208.4,196.3M215.2,167.0L176.9,183.1M203.4,165.3L205.1,197.6M215.2,170.3L177.5,186.1M199.4,167.0L201.7,199.0M215.2,173.6L178.0,189.1M195.5,168.7L198.3,200.3M215.2,177.0L178.6,192.1M191.6,170.4L194.9,201.6M215.2,180.3L179.2,195.0M187.6,172.1L191.5,203.0M215.2,183.6L179.7,198.0M183.7,173.7L188.2,204.3M215.2,186.9L180.3,201.0M179.7,175.4L184.8,205.7M215.2,190.3L180.8,204.0" stroke="#f6f6f6" stroke-width="0.45" fill="none"/>
<path d="M218.7,162.3L218.3,195.4M215.2,163.6L249.4,183.3M222.1,164.3L221.4,197.2M215.2,167.0L249.0,186.4M225.6,166.2L224.4,199.0M215.2,170.3L248.7,189.6M229.0,168.2L227.5,200.8M215.2,173.6L248.3,192.7M232.5,170.2L230.6,202.7M215.2,177.0L247.9,195.9M236.0,172.2L233.7,204.5M215.2,180.3L247.5,199.1M239.4,174.2L236.8,206.3M215.2,183.6L247.1,202.2M242.9,176.1L239.8,208.1M215.2,186.9L246.8,205.4M246.3,178.1L242.9,209.9M215.2,190.3L246.4,208.5" stroke="#f6f6f6" stroke-width="0.45" fill="none"/>
<path d="M211.8,194.9L242.4,213.7M218.3,195.4L184.2,209.5M208.4,196.3L238.7,215.8M221.4,197.2L187.0,212.0M205.1,197.6L235.1,217.8M224.4,199.0L189.9,214.5M201.7,199.0L231.4,219.8M227.5,200.8L192.7,217.0M198.3,200.3L227.8,221.9M230.6,202.7L195.5,219.5M194.9,201.6L224.2,223.9M233.7,204.5L198.3,222.0M191.5,203.0L220.5,225.9M236.8,206.3L201.1,224.5M188.2,204.3L216.9,227.9M239.8,208.1L204.0,227.0M184.8,205.7L213.2,230.0M242.9,209.9L206.8,229.5" stroke="#f6f6f6" stroke-width="0.45" fill="none"/>
<line x1="215.2" y1="160.3" x2="175.8" y2="177.1" stroke="#e2e2e2" stroke-width="0.7"/>
<line x1="215.2" y1="160.3" x2="249.8" y2="180.1" stroke="#e2e2e2" stroke-width="0.7"/>
<line x1="175.8" y1="177.1" x2="181.4" y2="207.0" stroke="#e2e2e2" stroke-width="0.7"/>
<line x1="249.8" y1="180.1" x2="246.0" y2="211.7" stroke="#e2e2e2" stroke-width="0.7"/>
<line x1="181.4" y1="207.0" x2="209.6" y2="232.0" stroke="#e2e2e2" stroke-width="0.7"/>
<line x1="246.0" y1="211.7" x2="209.6" y2="232.0" stroke="#e2e2e2" stroke-width="0.7"/>
<line x1="215.2" y1="193.6" x2="181.4" y2="207.0" stroke="#e2e2e2" stroke-width="0.7"/>
<line x1="215.2" y1="193.6" x2="246.0" y2="211.7" stroke="#e2e2e2" stroke-width="0.7"/>
<line x1="215.2" y1="160.3" x2="215.2" y2="193.6" stroke="#c4c4c4" stroke-width="0.8" stroke-dasharray="2.5 1.5"/>
<text x="0" y="1.95" font-size="5.5" font-weight="bold" fill="#111" text-anchor="middle" transform="translate(189.7,222.9) rotate(-30)">Y</text>
<text x="0" y="1.95" font-size="5.5" font-weight="bold" fill="#111" text-anchor="middle" transform="translate(232.2,225.5) rotate(30)">X</text>
<text x="0" y="1.95" font-size="5.5" font-weight="bold" fill="#111" text-anchor="middle" transform="translate(251.6,200.1) rotate(60)">Z</text>
<path d="M297.8,10.7L298.1,50.7M301.3,13.6L266.4,24.9M294.3,11.8L294.8,52.1M301.3,17.5L266.6,29.1M290.7,12.9L291.6,53.4M301.3,21.5L266.9,33.4M287.2,14.0L288.3,54.8M301.3,25.5L267.2,37.6M283.7,15.1L285.1,56.2M301.3,29.5L267.5,41.9M280.2,16.2L281.8,57.6M301.3,33.4L267.7,46.1M276.7,17.3L278.6,59.0M301.3,37.4L268.0,50.3M273.1,18.4L275.3,60.3M301.3,41.4L268.3,54.6M269.6,19.5L272.1,61.7M301.3,45.3L268.5,58.9" stroke="#f6f6f6" stroke-width="0.45" fill="none"/>
<path d="M305.3,10.6L305.0,50.5M301.3,13.6L341.3,23.4M309.4,11.5L308.8,51.8M301.3,17.5L341.0,27.6M313.4,12.4L312.5,53.0M301.3,21.5L340.7,31.9M317.4,13.4L316.2,54.2M301.3,25.5L340.4,36.1M321.5,14.4L320.0,55.5M301.3,29.5L340.1,40.4M325.5,15.3L323.7,56.7M301.3,33.4L339.8,44.6M329.5,16.2L327.4,57.9M301.3,37.4L339.5,48.8M333.5,17.2L331.1,59.1M301.3,41.4L339.2,53.1M337.6,18.2L334.9,60.4M301.3,45.3L338.9,57.4" stroke="#f6f6f6" stroke-width="0.45" fill="none"/>
<path d="M298.1,50.7L335.3,63.5M305.0,50.5L272.5,64.8M294.8,52.1L332.0,65.3M308.8,51.8L276.1,66.5M291.6,53.4L328.7,67.2M312.5,53.0L279.8,68.2M288.3,54.8L325.4,69.0M316.2,54.2L283.5,69.9M285.1,56.2L322.1,70.9M320.0,55.5L287.1,71.6M281.8,57.6L318.7,72.8M323.7,56.7L290.8,73.4M278.6,59.0L315.4,74.6M327.4,57.9L294.5,75.1M275.3,60.3L312.1,76.5M331.1,59.1L298.2,76.8M272.1,61.7L308.8,78.3M334.9,60.4L301.8,78.5" stroke="#f6f6f6" stroke-width="0.45" fill="none"/>
<line x1="301.3" y1="9.6" x2="266.1" y2="20.6" stroke="#e2e2e2" stroke-width="0.7"/>
<line x1="301.3" y1="9.6" x2="341.6" y2="19.1" stroke="#e2e2e2" stroke-width="0.7"/>
<line x1="266.1" y1="20.6" x2="268.8" y2="63.1" stroke="#e2e2e2" stroke-width="0.7"/>
<line x1="341.6" y1="19.1" x2="338.6" y2="61.6" stroke="#e2e2e2" stroke-width="0.7"/>
<line x1="301.3" y1="49.3" x2="268.8" y2="63.1" stroke="#e2e2e2" stroke-width="0.7"/>
<line x1="301.3" y1="49.3" x2="338.6" y2="61.6" stroke="#e2e2e2" stroke-width="0.7"/>
<line x1="268.8" y1="63.1" x2="305.5" y2="80.2" stroke="#e2e2e2" stroke-width="0.7"/>
<line x1="338.6" y1="61.6" x2="305.5" y2="80.2" stroke="#e2e2e2" stroke-width="0.7"/>
<line x1="301.3" y1="9.6" x2="301.3" y2="49.3" stroke="#d0d0d0" stroke-width="0.7"/>
<text x="0" y="1.95" font-size="5.5" font-weight="bold" fill="#111" text-anchor="middle" transform="translate(282.6,74.3) rotate(-25)">Y</text>
<text x="0" y="1.95" font-size="5.5" font-weight="bold" fill="#111" text-anchor="middle" transform="translate(328.2,72.2) rotate(30)">X</text>
<text x="0" y="1.95" font-size="5.5" font-weight="bold" fill="#111" text-anchor="middle" transform="translate(343.3,42.2) rotate(60)">Z</text>
<path d="M379.8,9.0L380.1,49.0M383.3,11.9L348.4,23.1M376.3,10.1L376.8,50.4M383.3,15.8L348.6,27.4M372.7,11.2L373.6,51.7M383.3,19.8L348.9,31.6M369.2,12.3L370.3,53.1M383.3,23.8L349.2,35.9M365.7,13.4L367.1,54.5M383.3,27.8L349.5,40.1M362.2,14.5L363.8,55.9M383.3,31.7L349.7,44.4M358.7,15.6L360.6,57.3M383.3,35.7L350.0,48.6M355.1,16.7L357.3,58.6M383.3,39.7L350.3,52.9M351.6,17.8L354.1,60.0M383.3,43.6L350.5,57.1" stroke="#f6f6f6" stroke-width="0.45" fill="none"/>
<path d="M387.3,8.8L387.0,48.8M383.3,11.9L423.3,21.6M391.4,9.8L390.8,50.1M383.3,15.8L423.0,25.9M395.4,10.8L394.5,51.3M383.3,19.8L422.7,30.1M399.4,11.7L398.2,52.5M383.3,23.8L422.4,34.4M403.5,12.6L402.0,53.8M383.3,27.8L422.1,38.6M407.5,13.6L405.7,55.0M383.3,31.7L421.8,42.9M411.5,14.5L409.4,56.2M383.3,35.7L421.5,47.1M415.5,15.5L413.1,57.4M383.3,39.7L421.2,51.4M419.6,16.4L416.9,58.7M383.3,43.6L420.9,55.6" stroke="#f6f6f6" stroke-width="0.45" fill="none"/>
<path d="M380.1,49.0L417.3,61.8M387.0,48.8L354.5,63.1M376.8,50.4L414.0,63.6M390.8,50.1L358.1,64.8M373.6,51.7L410.7,65.5M394.5,51.3L361.8,66.5M370.3,53.1L407.4,67.3M398.2,52.5L365.5,68.2M367.1,54.5L404.1,69.2M402.0,53.8L369.1,70.0M363.8,55.9L400.7,71.1M405.7,55.0L372.8,71.7M360.6,57.3L397.4,72.9M409.4,56.2L376.5,73.4M357.3,58.6L394.1,74.8M413.1,57.4L380.2,75.1M354.1,60.0L390.8,76.6M416.9,58.7L383.8,76.8" stroke="#f6f6f6" stroke-width="0.45" fill="none"/>
<line x1="383.3" y1="7.9" x2="348.1" y2="18.9" stroke="#e2e2e2" stroke-width="0.7"/>
<line x1="383.3" y1="7.9" x2="423.6" y2="17.4" stroke="#e2e2e2" stroke-width="0.7"/>
<line x1="348.1" y1="18.9" x2="350.8" y2="61.4" stroke="#e2e2e2" stroke-width="0.7"/>
<line x1="423.6" y1="17.4" x2="420.6" y2="59.9" stroke="#e2e2e2" stroke-width="0.7"/>
<line x1="383.3" y1="47.6" x2="350.8" y2="61.4" stroke="#e2e2e2" stroke-width="0.7"/>
<line x1="383.3" y1="47.6" x2="420.6" y2="59.9" stroke="#e2e2e2" stroke-width="0.7"/>
<line x1="350.8" y1="61.4" x2="387.5" y2="78.5" stroke="#e2e2e2" stroke-width="0.7"/>
<line x1="420.6" y1="59.9" x2="387.5" y2="78.5" stroke="#e2e2e2" stroke-width="0.7"/>
<line x1="383.3" y1="7.9" x2="383.3" y2="47.6" stroke="#d0d0d0" stroke-width="0.7"/>
<text x="0" y="1.95" font-size="5.5" font-weight="bold" fill="#111" text-anchor="middle" transform="translate(364.6,72.6) rotate(-25)">Y</text>
<text x="0" y="1.95" font-size="5.5" font-weight="bold" fill="#111" text-anchor="middle" transform="translate(410.2,70.5) rotate(30)">X</text>
<text x="0" y="1.95" font-size="5.5" font-weight="bold" fill="#111" text-anchor="middle" transform="translate(425.3,40.5) rotate(60)">Z</text>
<path d="M464.5,9.8L464.8,49.8M468.0,12.7L433.1,23.9M461.0,10.9L461.5,51.2M468.0,16.6L433.3,28.2M457.4,12.0L458.2,52.5M468.0,20.6L433.6,32.5M453.9,13.1L455.0,53.9M468.0,24.6L433.9,36.7M450.4,14.2L451.8,55.3M468.0,28.6L434.1,41.0M446.9,15.3L448.5,56.7M468.0,32.5L434.4,45.2M443.4,16.4L445.2,58.1M468.0,36.5L434.7,49.4M439.8,17.5L442.0,59.4M468.0,40.5L435.0,53.7M436.3,18.6L438.8,60.8M468.0,44.4L435.2,58.0" stroke="#f6f6f6" stroke-width="0.45" fill="none"/>
<path d="M472.0,9.6L471.7,49.6M468.0,12.7L508.0,22.4M476.1,10.6L475.5,50.9M468.0,16.6L507.7,26.7M480.1,11.5L479.2,52.1M468.0,20.6L507.4,30.9M484.1,12.5L482.9,53.3M468.0,24.6L507.1,35.2M488.1,13.4L486.6,54.6M468.0,28.6L506.8,39.5M492.2,14.4L490.4,55.8M468.0,32.5L506.5,43.7M496.2,15.3L494.1,57.0M468.0,36.5L506.2,47.9M500.2,16.3L497.8,58.2M468.0,40.5L505.9,52.2M504.3,17.2L501.6,59.5M468.0,44.4L505.6,56.5" stroke="#f6f6f6" stroke-width="0.45" fill="none"/>
<path d="M464.8,49.8L502.0,62.6M471.7,49.6L439.2,63.9M461.5,51.2L498.7,64.4M475.5,50.9L442.8,65.6M458.2,52.5L495.4,66.3M479.2,52.1L446.5,67.3M455.0,53.9L492.1,68.1M482.9,53.3L450.2,69.0M451.8,55.3L488.8,70.0M486.6,54.6L453.9,70.8M448.5,56.7L485.4,71.9M490.4,55.8L457.5,72.5M445.2,58.1L482.1,73.7M494.1,57.0L461.2,74.2M442.0,59.4L478.8,75.6M497.8,58.2L464.9,75.9M438.8,60.8L475.5,77.4M501.6,59.5L468.5,77.6" stroke="#f6f6f6" stroke-width="0.45" fill="none"/>
<line x1="468.0" y1="8.7" x2="432.8" y2="19.7" stroke="#e2e2e2" stroke-width="0.7"/>
<line x1="468.0" y1="8.7" x2="508.3" y2="18.2" stroke="#e2e2e2" stroke-width="0.7"/>
<line x1="432.8" y1="19.7" x2="435.5" y2="62.2" stroke="#e2e2e2" stroke-width="0.7"/>
<line x1="508.3" y1="18.2" x2="505.3" y2="60.7" stroke="#e2e2e2" stroke-width="0.7"/>
<line x1="468.0" y1="48.4" x2="435.5" y2="62.2" stroke="#e2e2e2" stroke-width="0.7"/>
<line x1="468.0" y1="48.4" x2="505.3" y2="60.7" stroke="#e2e2e2" stroke-width="0.7"/>
<line x1="435.5" y1="62.2" x2="472.2" y2="79.3" stroke="#e2e2e2" stroke-width="0.7"/>
<line x1="505.3" y1="60.7" x2="472.2" y2="79.3" stroke="#e2e2e2" stroke-width="0.7"/>
<line x1="468.0" y1="8.7" x2="468.0" y2="48.4" stroke="#d0d0d0" stroke-width="0.7"/>
<text x="0" y="1.95" font-size="5.5" font-weight="bold" fill="#111" text-anchor="middle" transform="translate(449.3,73.4) rotate(-25)">Y</text>
<text x="0" y="1.95" font-size="5.5" font-weight="bold" fill="#111" text-anchor="middle" transform="translate(494.9,71.3) rotate(30)">X</text>
<text x="0" y="1.95" font-size="5.5" font-weight="bold" fill="#111" text-anchor="middle" transform="translate(510.0,41.3) rotate(60)">Z</text>
<path d="M296.6,84.9L296.9,124.9M300.1,87.8L265.2,99.0M293.1,86.0L293.6,126.3M300.1,91.7L265.4,103.3M289.5,87.1L290.4,127.6M300.1,95.7L265.7,107.5M286.0,88.2L287.1,129.0M300.1,99.7L266.0,111.8M282.5,89.3L283.9,130.4M300.1,103.7L266.2,116.1M279.0,90.4L280.6,131.8M300.1,107.6L266.5,120.3M275.5,91.5L277.4,133.2M300.1,111.6L266.8,124.6M271.9,92.6L274.1,134.5M300.1,115.6L267.1,128.8M268.4,93.7L270.9,135.9M300.1,119.5L267.3,133.1" stroke="#f6f6f6" stroke-width="0.45" fill="none"/>
<path d="M304.1,84.8L303.8,124.7M300.1,87.8L340.1,97.5M308.2,85.7L307.6,126.0M300.1,91.7L339.8,101.8M312.2,86.6L311.3,127.2M300.1,95.7L339.5,106.0M316.2,87.6L315.0,128.4M300.1,99.7L339.2,110.3M320.2,88.5L318.8,129.7M300.1,103.7L338.9,114.6M324.3,89.5L322.5,130.9M300.1,107.6L338.6,118.8M328.3,90.5L326.2,132.1M300.1,111.6L338.3,123.1M332.3,91.4L329.9,133.3M300.1,115.6L338.0,127.3M336.4,92.3L333.7,134.6M300.1,119.5L337.7,131.6" stroke="#f6f6f6" stroke-width="0.45" fill="none"/>
<path d="M296.9,124.9L334.1,137.7M303.8,124.7L271.3,139.0M293.6,126.3L330.8,139.5M307.6,126.0L274.9,140.7M290.4,127.6L327.5,141.4M311.3,127.2L278.6,142.4M287.1,129.0L324.2,143.2M315.0,128.4L282.3,144.1M283.9,130.4L320.9,145.1M318.8,129.7L286.0,145.8M280.6,131.8L317.5,147.0M322.5,130.9L289.6,147.6M277.4,133.2L314.2,148.8M326.2,132.1L293.3,149.3M274.1,134.5L310.9,150.7M329.9,133.3L297.0,151.0M270.9,135.9L307.6,152.5M333.7,134.6L300.6,152.7" stroke="#f6f6f6" stroke-width="0.45" fill="none"/>
<line x1="300.1" y1="83.8" x2="264.9" y2="94.8" stroke="#e2e2e2" stroke-width="0.7"/>
<line x1="300.1" y1="83.8" x2="340.4" y2="93.3" stroke="#e2e2e2" stroke-width="0.7"/>
<line x1="264.9" y1="94.8" x2="267.6" y2="137.3" stroke="#e2e2e2" stroke-width="0.7"/>
<line x1="340.4" y1="93.3" x2="337.4" y2="135.8" stroke="#e2e2e2" stroke-width="0.7"/>
<line x1="300.1" y1="123.5" x2="267.6" y2="137.3" stroke="#e2e2e2" stroke-width="0.7"/>
<line x1="300.1" y1="123.5" x2="337.4" y2="135.8" stroke="#e2e2e2" stroke-width="0.7"/>
<line x1="267.6" y1="137.3" x2="304.3" y2="154.4" stroke="#e2e2e2" stroke-width="0.7"/>
<line x1="337.4" y1="135.8" x2="304.3" y2="154.4" stroke="#e2e2e2" stroke-width="0.7"/>
<line x1="300.1" y1="83.8" x2="300.1" y2="123.5" stroke="#d0d0d0" stroke-width="0.7"/>
<text x="0" y="1.95" font-size="5.5" font-weight="bold" fill="#111" text-anchor="middle" transform="translate(281.4,148.5) rotate(-25)">Y</text>
<text x="0" y="1.95" font-size="5.5" font-weight="bold" fill="#111" text-anchor="middle" transform="translate(327.0,146.4) rotate(30)">X</text>
<text x="0" y="1.95" font-size="5.5" font-weight="bold" fill="#111" text-anchor="middle" transform="translate(342.1,116.4) rotate(60)">Z</text>
<path d="M379.7,84.3L379.9,124.3M383.2,87.2L348.3,98.5M376.2,85.4L376.7,125.7M383.2,91.1L348.5,102.7M372.6,86.5L373.4,127.0M383.2,95.1L348.8,107.0M369.1,87.6L370.2,128.4M383.2,99.1L349.1,111.2M365.6,88.7L366.9,129.8M383.2,103.1L349.4,115.4M362.1,89.8L363.7,131.2M383.2,107.0L349.6,119.7M358.6,90.9L360.4,132.6M383.2,111.0L349.9,123.9M355.0,92.0L357.2,133.9M383.2,115.0L350.2,128.2M351.5,93.1L353.9,135.3M383.2,118.9L350.4,132.4" stroke="#f6f6f6" stroke-width="0.45" fill="none"/>
<path d="M387.2,84.2L386.9,124.1M383.2,87.2L423.2,97.0M391.3,85.1L390.7,125.4M383.2,91.1L422.9,101.2M395.3,86.0L394.4,126.6M383.2,95.1L422.6,105.5M399.3,87.0L398.1,127.8M383.2,99.1L422.3,109.7M403.4,88.0L401.9,129.1M383.2,103.1L422.0,113.9M407.4,88.9L405.6,130.3M383.2,107.0L421.7,118.2M411.4,89.9L409.3,131.5M383.2,111.0L421.4,122.4M415.4,90.8L413.0,132.7M383.2,115.0L421.1,126.7M419.5,91.8L416.8,134.0M383.2,118.9L420.8,130.9" stroke="#f6f6f6" stroke-width="0.45" fill="none"/>
<path d="M379.9,124.3L417.2,137.1M386.9,124.1L354.4,138.4M376.7,125.7L413.9,138.9M390.7,125.4L358.0,140.1M373.4,127.0L410.6,140.8M394.4,126.6L361.7,141.8M370.2,128.4L407.3,142.6M398.1,127.8L365.4,143.5M366.9,129.8L403.9,144.5M401.9,129.1L369.0,145.2M363.7,131.2L400.6,146.4M405.6,130.3L372.7,147.0M360.4,132.6L397.3,148.2M409.3,131.5L376.4,148.7M357.2,133.9L394.0,150.1M413.0,132.7L380.1,150.4M353.9,135.3L390.7,151.9M416.8,134.0L383.7,152.1" stroke="#f6f6f6" stroke-width="0.45" fill="none"/>
<line x1="383.2" y1="83.2" x2="348.0" y2="94.2" stroke="#e2e2e2" stroke-width="0.7"/>
<line x1="383.2" y1="83.2" x2="423.5" y2="92.7" stroke="#e2e2e2" stroke-width="0.7"/>
<line x1="348.0" y1="94.2" x2="350.7" y2="136.7" stroke="#e2e2e2" stroke-width="0.7"/>
<line x1="423.5" y1="92.7" x2="420.5" y2="135.2" stroke="#e2e2e2" stroke-width="0.7"/>
<line x1="383.2" y1="122.9" x2="350.7" y2="136.7" stroke="#e2e2e2" stroke-width="0.7"/>
<line x1="383.2" y1="122.9" x2="420.5" y2="135.2" stroke="#e2e2e2" stroke-width="0.7"/>
<line x1="350.7" y1="136.7" x2="387.4" y2="153.8" stroke="#e2e2e2" stroke-width="0.7"/>
<line x1="420.5" y1="135.2" x2="387.4" y2="153.8" stroke="#e2e2e2" stroke-width="0.7"/>
<line x1="383.2" y1="83.2" x2="383.2" y2="122.9" stroke="#d0d0d0" stroke-width="0.7"/>
<text x="0" y="1.95" font-size="5.5" font-weight="bold" fill="#111" text-anchor="middle" transform="translate(364.5,147.9) rotate(-25)">Y</text>
<text x="0" y="1.95" font-size="5.5" font-weight="bold" fill="#111" text-anchor="middle" transform="translate(410.1,145.8) rotate(30)">X</text>
<text x="0" y="1.95" font-size="5.5" font-weight="bold" fill="#111" text-anchor="middle" transform="translate(425.2,115.8) rotate(60)">Z</text>
<path d="M463.5,84.9L463.8,124.9M467.0,87.8L432.1,99.0M460.0,86.0L460.5,126.3M467.0,91.7L432.3,103.3M456.4,87.1L457.2,127.6M467.0,95.7L432.6,107.5M452.9,88.2L454.0,129.0M467.0,99.7L432.9,111.8M449.4,89.3L450.8,130.4M467.0,103.7L433.1,116.1M445.9,90.4L447.5,131.8M467.0,107.6L433.4,120.3M442.4,91.5L444.2,133.2M467.0,111.6L433.7,124.6M438.8,92.6L441.0,134.5M467.0,115.6L434.0,128.8M435.3,93.7L437.8,135.9M467.0,119.5L434.2,133.1" stroke="#f6f6f6" stroke-width="0.45" fill="none"/>
<path d="M471.0,84.8L470.7,124.7M467.0,87.8L507.0,97.5M475.1,85.7L474.5,126.0M467.0,91.7L506.7,101.8M479.1,86.6L478.2,127.2M467.0,95.7L506.4,106.0M483.1,87.6L481.9,128.4M467.0,99.7L506.1,110.3M487.1,88.5L485.6,129.7M467.0,103.7L505.8,114.6M491.2,89.5L489.4,130.9M467.0,107.6L505.5,118.8M495.2,90.5L493.1,132.1M467.0,111.6L505.2,123.1M499.2,91.4L496.8,133.3M467.0,115.6L504.9,127.3M503.3,92.3L500.6,134.6M467.0,119.5L504.6,131.6" stroke="#f6f6f6" stroke-width="0.45" fill="none"/>
<path d="M463.8,124.9L501.0,137.7M470.7,124.7L438.2,139.0M460.5,126.3L497.7,139.5M474.5,126.0L441.8,140.7M457.2,127.6L494.4,141.4M478.2,127.2L445.5,142.4M454.0,129.0L491.1,143.2M481.9,128.4L449.2,144.1M450.8,130.4L487.8,145.1M485.6,129.7L452.9,145.8M447.5,131.8L484.4,147.0M489.4,130.9L456.5,147.6M444.2,133.2L481.1,148.8M493.1,132.1L460.2,149.3M441.0,134.5L477.8,150.7M496.8,133.3L463.9,151.0M437.8,135.9L474.5,152.5M500.6,134.6L467.5,152.7" stroke="#f6f6f6" stroke-width="0.45" fill="none"/>
<line x1="467.0" y1="83.8" x2="431.8" y2="94.8" stroke="#e2e2e2" stroke-width="0.7"/>
<line x1="467.0" y1="83.8" x2="507.3" y2="93.3" stroke="#e2e2e2" stroke-width="0.7"/>
<line x1="431.8" y1="94.8" x2="434.5" y2="137.3" stroke="#e2e2e2" stroke-width="0.7"/>
<line x1="507.3" y1="93.3" x2="504.3" y2="135.8" stroke="#e2e2e2" stroke-width="0.7"/>
<line x1="467.0" y1="123.5" x2="434.5" y2="137.3" stroke="#e2e2e2" stroke-width="0.7"/>
<line x1="467.0" y1="123.5" x2="504.3" y2="135.8" stroke="#e2e2e2" stroke-width="0.7"/>
<line x1="434.5" y1="137.3" x2="471.2" y2="154.4" stroke="#e2e2e2" stroke-width="0.7"/>
<line x1="504.3" y1="135.8" x2="471.2" y2="154.4" stroke="#e2e2e2" stroke-width="0.7"/>
<line x1="467.0" y1="83.8" x2="467.0" y2="123.5" stroke="#d0d0d0" stroke-width="0.7"/>
<text x="0" y="1.95" font-size="5.5" font-weight="bold" fill="#111" text-anchor="middle" transform="translate(448.3,148.5) rotate(-25)">Y</text>
<text x="0" y="1.95" font-size="5.5" font-weight="bold" fill="#111" text-anchor="middle" transform="translate(493.9,146.4) rotate(30)">X</text>
<text x="0" y="1.95" font-size="5.5" font-weight="bold" fill="#111" text-anchor="middle" transform="translate(509.0,116.4) rotate(60)">Z</text>
<path d="M298.6,161.8L298.9,201.8M302.1,164.7L267.2,175.9M295.1,162.9L295.6,203.2M302.1,168.6L267.4,180.2M291.5,164.0L292.4,204.5M302.1,172.6L267.7,184.4M288.0,165.1L289.1,205.9M302.1,176.6L268.0,188.7M284.5,166.2L285.9,207.3M302.1,180.5L268.2,192.9M281.0,167.3L282.6,208.7M302.1,184.5L268.5,197.2M277.5,168.4L279.4,210.1M302.1,188.5L268.8,201.4M273.9,169.5L276.1,211.4M302.1,192.5L269.1,205.7M270.4,170.6L272.9,212.8M302.1,196.4L269.3,209.9" stroke="#f6f6f6" stroke-width="0.45" fill="none"/>
<path d="M306.1,161.6L305.8,201.6M302.1,164.7L342.1,174.4M310.2,162.6L309.6,202.9M302.1,168.6L341.8,178.7M314.2,163.5L313.3,204.1M302.1,172.6L341.5,182.9M318.2,164.5L317.0,205.3M302.1,176.6L341.2,187.2M322.2,165.4L320.8,206.5M302.1,180.5L340.9,191.4M326.3,166.4L324.5,207.8M302.1,184.5L340.6,195.7M330.3,167.3L328.2,209.0M302.1,188.5L340.3,199.9M334.3,168.3L331.9,210.2M302.1,192.5L340.0,204.2M338.4,169.2L335.7,211.5M302.1,196.4L339.7,208.4" stroke="#f6f6f6" stroke-width="0.45" fill="none"/>
<path d="M298.9,201.8L336.1,214.6M305.8,201.6L273.3,215.9M295.6,203.2L332.8,216.4M309.6,202.9L276.9,217.6M292.4,204.5L329.5,218.3M313.3,204.1L280.6,219.3M289.1,205.9L326.2,220.1M317.0,205.3L284.3,221.0M285.9,207.3L322.9,222.0M320.8,206.5L288.0,222.8M282.6,208.7L319.5,223.9M324.5,207.8L291.6,224.5M279.4,210.1L316.2,225.7M328.2,209.0L295.3,226.2M276.1,211.4L312.9,227.6M331.9,210.2L299.0,227.9M272.9,212.8L309.6,229.4M335.7,211.5L302.6,229.6" stroke="#f6f6f6" stroke-width="0.45" fill="none"/>
<line x1="302.1" y1="160.7" x2="266.9" y2="171.7" stroke="#e2e2e2" stroke-width="0.7"/>
<line x1="302.1" y1="160.7" x2="342.4" y2="170.2" stroke="#e2e2e2" stroke-width="0.7"/>
<line x1="266.9" y1="171.7" x2="269.6" y2="214.2" stroke="#e2e2e2" stroke-width="0.7"/>
<line x1="342.4" y1="170.2" x2="339.4" y2="212.7" stroke="#e2e2e2" stroke-width="0.7"/>
<line x1="302.1" y1="200.4" x2="269.6" y2="214.2" stroke="#e2e2e2" stroke-width="0.7"/>
<line x1="302.1" y1="200.4" x2="339.4" y2="212.7" stroke="#e2e2e2" stroke-width="0.7"/>
<line x1="269.6" y1="214.2" x2="306.3" y2="231.3" stroke="#e2e2e2" stroke-width="0.7"/>
<line x1="339.4" y1="212.7" x2="306.3" y2="231.3" stroke="#e2e2e2" stroke-width="0.7"/>
<line x1="302.1" y1="160.7" x2="302.1" y2="200.4" stroke="#d0d0d0" stroke-width="0.7"/>
<text x="0" y="1.95" font-size="5.5" font-weight="bold" fill="#111" text-anchor="middle" transform="translate(283.4,225.4) rotate(-25)">Y</text>
<text x="0" y="1.95" font-size="5.5" font-weight="bold" fill="#111" text-anchor="middle" transform="translate(329.0,223.3) rotate(30)">X</text>
<text x="0" y="1.95" font-size="5.5" font-weight="bold" fill="#111" text-anchor="middle" transform="translate(344.1,193.3) rotate(60)">Z</text>
<path d="M380.8,161.0L381.1,201.0M384.3,163.9L349.4,175.2M377.3,162.1L377.8,202.4M384.3,167.8L349.6,179.4M373.7,163.2L374.6,203.7M384.3,171.8L349.9,183.7M370.2,164.3L371.3,205.1M384.3,175.8L350.2,187.9M366.7,165.4L368.1,206.5M384.3,179.8L350.5,192.2M363.2,166.5L364.8,207.9M384.3,183.7L350.7,196.4M359.7,167.6L361.6,209.3M384.3,187.7L351.0,200.7M356.1,168.7L358.3,210.6M384.3,191.7L351.3,204.9M352.6,169.8L355.1,212.0M384.3,195.6L351.5,209.2" stroke="#f6f6f6" stroke-width="0.45" fill="none"/>
<path d="M388.3,160.8L388.0,200.8M384.3,163.9L424.3,173.7M392.4,161.8L391.8,202.1M384.3,167.8L424.0,177.9M396.4,162.8L395.5,203.3M384.3,171.8L423.7,182.2M400.4,163.7L399.2,204.5M384.3,175.8L423.4,186.4M404.5,164.7L403.0,205.8M384.3,179.8L423.1,190.7M408.5,165.6L406.7,207.0M384.3,183.7L422.8,194.9M412.5,166.6L410.4,208.2M384.3,187.7L422.5,199.2M416.5,167.5L414.1,209.4M384.3,191.7L422.2,203.4M420.6,168.5L417.9,210.7M384.3,195.6L421.9,207.7" stroke="#f6f6f6" stroke-width="0.45" fill="none"/>
<path d="M381.1,201.0L418.3,213.8M388.0,200.8L355.5,215.1M377.8,202.4L415.0,215.6M391.8,202.1L359.1,216.8M374.6,203.7L411.7,217.5M395.5,203.3L362.8,218.5M371.3,205.1L408.4,219.3M399.2,204.5L366.5,220.2M368.1,206.5L405.1,221.2M403.0,205.8L370.1,221.9M364.8,207.9L401.7,223.1M406.7,207.0L373.8,223.7M361.6,209.3L398.4,224.9M410.4,208.2L377.5,225.4M358.3,210.6L395.1,226.8M414.1,209.4L381.2,227.1M355.1,212.0L391.8,228.6M417.9,210.7L384.8,228.8" stroke="#f6f6f6" stroke-width="0.45" fill="none"/>
<line x1="384.3" y1="159.9" x2="349.1" y2="170.9" stroke="#e2e2e2" stroke-width="0.7"/>
<line x1="384.3" y1="159.9" x2="424.6" y2="169.4" stroke="#e2e2e2" stroke-width="0.7"/>
<line x1="349.1" y1="170.9" x2="351.8" y2="213.4" stroke="#e2e2e2" stroke-width="0.7"/>
<line x1="424.6" y1="169.4" x2="421.6" y2="211.9" stroke="#e2e2e2" stroke-width="0.7"/>
<line x1="384.3" y1="199.6" x2="351.8" y2="213.4" stroke="#e2e2e2" stroke-width="0.7"/>
<line x1="384.3" y1="199.6" x2="421.6" y2="211.9" stroke="#e2e2e2" stroke-width="0.7"/>
<line x1="351.8" y1="213.4" x2="388.5" y2="230.5" stroke="#e2e2e2" stroke-width="0.7"/>
<line x1="421.6" y1="211.9" x2="388.5" y2="230.5" stroke="#e2e2e2" stroke-width="0.7"/>
<line x1="384.3" y1="159.9" x2="384.3" y2="199.6" stroke="#d0d0d0" stroke-width="0.7"/>
<text x="0" y="1.95" font-size="5.5" font-weight="bold" fill="#111" text-anchor="middle" transform="translate(365.6,224.6) rotate(-25)">Y</text>
<text x="0" y="1.95" font-size="5.5" font-weight="bold" fill="#111" text-anchor="middle" transform="translate(411.2,222.5) rotate(30)">X</text>
<text x="0" y="1.95" font-size="5.5" font-weight="bold" fill="#111" text-anchor="middle" transform="translate(426.3,192.5) rotate(60)">Z</text>
<path d="M466.3,161.0L466.6,201.0M469.8,163.9L434.9,175.2M462.8,162.1L463.3,202.4M469.8,167.8L435.1,179.4M459.2,163.2L460.1,203.7M469.8,171.8L435.4,183.7M455.7,164.3L456.8,205.1M469.8,175.8L435.7,187.9M452.2,165.4L453.6,206.5M469.8,179.8L436.0,192.2M448.7,166.5L450.3,207.9M469.8,183.7L436.2,196.4M445.2,167.6L447.1,209.3M469.8,187.7L436.5,200.7M441.6,168.7L443.8,210.6M469.8,191.7L436.8,204.9M438.1,169.8L440.6,212.0M469.8,195.6L437.0,209.2" stroke="#f6f6f6" stroke-width="0.45" fill="none"/>
<path d="M473.8,160.8L473.5,200.8M469.8,163.9L509.8,173.7M477.9,161.8L477.3,202.1M469.8,167.8L509.5,177.9M481.9,162.8L481.0,203.3M469.8,171.8L509.2,182.2M485.9,163.7L484.7,204.5M469.8,175.8L508.9,186.4M490.0,164.7L488.5,205.8M469.8,179.8L508.6,190.7M494.0,165.6L492.2,207.0M469.8,183.7L508.3,194.9M498.0,166.6L495.9,208.2M469.8,187.7L508.0,199.2M502.0,167.5L499.6,209.4M469.8,191.7L507.7,203.4M506.1,168.5L503.4,210.7M469.8,195.6L507.4,207.7" stroke="#f6f6f6" stroke-width="0.45" fill="none"/>
<path d="M466.6,201.0L503.8,213.8M473.5,200.8L441.0,215.1M463.3,202.4L500.5,215.6M477.3,202.1L444.6,216.8M460.1,203.7L497.2,217.5M481.0,203.3L448.3,218.5M456.8,205.1L493.9,219.3M484.7,204.5L452.0,220.2M453.6,206.5L490.6,221.2M488.5,205.8L455.6,221.9M450.3,207.9L487.2,223.1M492.2,207.0L459.3,223.7M447.1,209.3L483.9,224.9M495.9,208.2L463.0,225.4M443.8,210.6L480.6,226.8M499.6,209.4L466.7,227.1M440.6,212.0L477.3,228.6M503.4,210.7L470.3,228.8" stroke="#f6f6f6" stroke-width="0.45" fill="none"/>
<line x1="469.8" y1="159.9" x2="434.6" y2="170.9" stroke="#e2e2e2" stroke-width="0.7"/>
<line x1="469.8" y1="159.9" x2="510.1" y2="169.4" stroke="#e2e2e2" stroke-width="0.7"/>
<line x1="434.6" y1="170.9" x2="437.3" y2="213.4" stroke="#e2e2e2" stroke-width="0.7"/>
<line x1="510.1" y1="169.4" x2="507.1" y2="211.9" stroke="#e2e2e2" stroke-width="0.7"/>
<line x1="469.8" y1="199.6" x2="437.3" y2="213.4" stroke="#e2e2e2" stroke-width="0.7"/>
<line x1="469.8" y1="199.6" x2="507.1" y2="211.9" stroke="#e2e2e2" stroke-width="0.7"/>
<line x1="437.3" y1="213.4" x2="474.0" y2="230.5" stroke="#e2e2e2" stroke-width="0.7"/>
<line x1="507.1" y1="211.9" x2="474.0" y2="230.5" stroke="#e2e2e2" stroke-width="0.7"/>
<line x1="469.8" y1="159.9" x2="469.8" y2="199.6" stroke="#d0d0d0" stroke-width="0.7"/>
<text x="0" y="1.95" font-size="5.5" font-weight="bold" fill="#111" text-anchor="middle" transform="translate(451.1,224.6) rotate(-25)">Y</text>
<text x="0" y="1.95" font-size="5.5" font-weight="bold" fill="#111" text-anchor="middle" transform="translate(496.7,222.5) rotate(30)">X</text>
<text x="0" y="1.95" font-size="5.5" font-weight="bold" fill="#111" text-anchor="middle" transform="translate(511.8,192.5) rotate(60)">Z</text>
<g transform="matrix(7.30,-4.80,1.00,3.50,56.50,59.80)"><g clip-path="url(#dc1)">
<rect x="-1.2" y="-1.60" width="2.4" height="2.80" fill="#3010a0"/>
<path d="M-1.3,-1.70 H1.3 V-0.989 L1.03,-0.062 A1.03,1.03 0 0 1 -1.03,-0.062 L-1.3,-0.989 Z" fill="#1020e0"/>
<path d="M-1.3,-1.70 H1.3 V-1.150 L1.00,-0.250 A1.00,1.00 0 0 1 -1.00,-0.250 L-1.3,-1.150 Z" fill="#00c8f0"/>
<path d="M-1.3,-1.70 H1.3 V-1.305 L0.97,-0.432 A0.97,0.97 0 0 1 -0.97,-0.432 L-1.3,-1.305 Z" fill="#20d010"/>
<path d="M-1.3,-1.70 H1.3 V-1.447 L0.93,-0.610 A0.93,0.93 0 0 1 -0.93,-0.610 L-1.3,-1.447 Z" fill="#f0f000"/>
<path d="M-1.3,-1.70 H1.3 V-1.613 L0.88,-0.821 A0.88,0.88 0 0 1 -0.88,-0.821 L-1.3,-1.613 Z" fill="#ff9000"/>
<path d="M-1.3,-1.70 H1.3 V-1.702 L0.84,-0.946 A0.84,0.84 0 0 1 -0.84,-0.946 L-1.3,-1.702 Z" fill="url(#redg)"/>
</g></g>
<g transform="matrix(9.25,-4.20,0.60,4.30,136.50,59.60)"><g clip-path="url(#dc2)">
<rect x="-1.2" y="-2.25" width="2.4" height="3.45" fill="#3010a0"/>
<path d="M-1.3,-2.35 H1.3 V-1.006 L1.03,-0.079 A1.03,1.03 0 0 1 -1.03,-0.079 L-1.3,-1.006 Z" fill="#1020e0"/>
<path d="M-1.3,-2.35 H1.3 V-1.217 L1.00,-0.317 A1.00,1.00 0 0 1 -1.00,-0.317 L-1.3,-1.217 Z" fill="#00c8f0"/>
<path d="M-1.3,-2.35 H1.3 V-1.422 L0.97,-0.549 A0.97,0.97 0 0 1 -0.97,-0.549 L-1.3,-1.422 Z" fill="#20d010"/>
<path d="M-1.3,-2.35 H1.3 V-1.612 L0.93,-0.775 A0.93,0.93 0 0 1 -0.93,-0.775 L-1.3,-1.612 Z" fill="#f0f000"/>
<path d="M-1.3,-2.35 H1.3 V-1.835 L0.88,-1.043 A0.88,0.88 0 0 1 -0.88,-1.043 L-1.3,-1.835 Z" fill="#ff9000"/>
<path d="M-1.3,-2.35 H1.3 V-1.958 L0.84,-1.202 A0.84,0.84 0 0 1 -0.84,-1.202 L-1.3,-1.958 Z" fill="url(#redg)"/>
</g></g>
<g transform="matrix(10.80,-3.05,-0.30,5.60,217.20,58.30)"><g clip-path="url(#dc3)">
<rect x="-1.2" y="-2.40" width="2.4" height="3.60" fill="#3010a0"/>
<path d="M-1.3,-2.50 H1.3 V-1.010 L1.03,-0.083 A1.03,1.03 0 0 1 -1.03,-0.083 L-1.3,-1.010 Z" fill="#1020e0"/>
<path d="M-1.3,-2.50 H1.3 V-1.233 L1.00,-0.333 A1.00,1.00 0 0 1 -1.00,-0.333 L-1.3,-1.233 Z" fill="#00c8f0"/>
<path d="M-1.3,-2.50 H1.3 V-1.449 L0.97,-0.576 A0.97,0.97 0 0 1 -0.97,-0.576 L-1.3,-1.449 Z" fill="#20d010"/>
<path d="M-1.3,-2.50 H1.3 V-1.650 L0.93,-0.813 A0.93,0.93 0 0 1 -0.93,-0.813 L-1.3,-1.650 Z" fill="#f0f000"/>
<path d="M-1.3,-2.50 H1.3 V-1.886 L0.88,-1.094 A0.88,0.88 0 0 1 -0.88,-1.094 L-1.3,-1.886 Z" fill="#ff9000"/>
<path d="M-1.3,-2.50 H1.3 V-2.017 L0.84,-1.261 A0.84,0.84 0 0 1 -0.84,-1.261 L-1.3,-2.017 Z" fill="url(#redg)"/>
</g></g>
<g transform="matrix(12.25,-2.40,-0.30,6.60,52.35,131.50)"><g clip-path="url(#dc4)">
<rect x="-1.2" y="-2.40" width="2.4" height="3.60" fill="#3010a0"/>
<path d="M-1.3,-2.50 H1.3 V-1.010 L1.03,-0.083 A1.03,1.03 0 0 1 -1.03,-0.083 L-1.3,-1.010 Z" fill="#1020e0"/>
<path d="M-1.3,-2.50 H1.3 V-1.233 L1.00,-0.333 A1.00,1.00 0 0 1 -1.00,-0.333 L-1.3,-1.233 Z" fill="#00c8f0"/>
<path d="M-1.3,-2.50 H1.3 V-1.449 L0.97,-0.576 A0.97,0.97 0 0 1 -0.97,-0.576 L-1.3,-1.449 Z" fill="#20d010"/>
<path d="M-1.3,-2.50 H1.3 V-1.650 L0.93,-0.813 A0.93,0.93 0 0 1 -0.93,-0.813 L-1.3,-1.650 Z" fill="#f0f000"/>
<path d="M-1.3,-2.50 H1.3 V-1.886 L0.88,-1.094 A0.88,0.88 0 0 1 -0.88,-1.094 L-1.3,-1.886 Z" fill="#ff9000"/>
<path d="M-1.3,-2.50 H1.3 V-2.017 L0.84,-1.261 A0.84,0.84 0 0 1 -0.84,-1.261 L-1.3,-2.017 Z" fill="url(#redg)"/>
</g></g>
<g transform="matrix(13.10,-0.60,0.10,6.90,134.40,133.40)"><g clip-path="url(#dc5)">
<rect x="-1.2" y="-2.35" width="2.4" height="3.55" fill="#3010a0"/>
<path d="M-1.3,-2.45 H1.3 V-1.009 L1.03,-0.082 A1.03,1.03 0 0 1 -1.03,-0.082 L-1.3,-1.009 Z" fill="#1020e0"/>
<path d="M-1.3,-2.45 H1.3 V-1.228 L1.00,-0.328 A1.00,1.00 0 0 1 -1.00,-0.328 L-1.3,-1.228 Z" fill="#00c8f0"/>
<path d="M-1.3,-2.45 H1.3 V-1.440 L0.97,-0.567 A0.97,0.97 0 0 1 -0.97,-0.567 L-1.3,-1.440 Z" fill="#20d010"/>
<path d="M-1.3,-2.45 H1.3 V-1.637 L0.93,-0.800 A0.93,0.93 0 0 1 -0.93,-0.800 L-1.3,-1.637 Z" fill="#f0f000"/>
<path d="M-1.3,-2.45 H1.3 V-1.869 L0.88,-1.077 A0.88,0.88 0 0 1 -0.88,-1.077 L-1.3,-1.869 Z" fill="#ff9000"/>
<path d="M-1.3,-2.45 H1.3 V-1.997 L0.84,-1.241 A0.84,0.84 0 0 1 -0.84,-1.241 L-1.3,-1.997 Z" fill="url(#redg)"/>
</g></g>
<g transform="matrix(14.40,-0.50,0.30,7.40,214.80,135.20)"><g clip-path="url(#dc6)">
<rect x="-1.2" y="-2.20" width="2.4" height="3.40" fill="#3010a0"/>
<path d="M-1.3,-2.30 H1.3 V-1.005 L1.03,-0.078 A1.03,1.03 0 0 1 -1.03,-0.078 L-1.3,-1.005 Z" fill="#1020e0"/>
<path d="M-1.3,-2.30 H1.3 V-1.212 L1.00,-0.312 A1.00,1.00 0 0 1 -1.00,-0.312 L-1.3,-1.212 Z" fill="#00c8f0"/>
<path d="M-1.3,-2.30 H1.3 V-1.413 L0.97,-0.540 A0.97,0.97 0 0 1 -0.97,-0.540 L-1.3,-1.413 Z" fill="#20d010"/>
<path d="M-1.3,-2.30 H1.3 V-1.599 L0.93,-0.762 A0.93,0.93 0 0 1 -0.93,-0.762 L-1.3,-1.599 Z" fill="#f0f000"/>
<path d="M-1.3,-2.30 H1.3 V-1.818 L0.88,-1.026 A0.88,0.88 0 0 1 -0.88,-1.026 L-1.3,-1.818 Z" fill="#ff9000"/>
<path d="M-1.3,-2.30 H1.3 V-1.938 L0.84,-1.182 A0.84,0.84 0 0 1 -0.84,-1.182 L-1.3,-1.938 Z" fill="url(#redg)"/>
</g></g>
<g transform="matrix(14.70,0.25,0.00,7.50,49.70,210.70)"><g clip-path="url(#dc7)">
<rect x="-1.2" y="-2.30" width="2.4" height="3.50" fill="#3010a0"/>
<path d="M-1.3,-2.40 H1.3 V-1.008 L1.03,-0.081 A1.03,1.03 0 0 1 -1.03,-0.081 L-1.3,-1.008 Z" fill="#1020e0"/>
<path d="M-1.3,-2.40 H1.3 V-1.222 L1.00,-0.322 A1.00,1.00 0 0 1 -1.00,-0.322 L-1.3,-1.222 Z" fill="#00c8f0"/>
<path d="M-1.3,-2.40 H1.3 V-1.431 L0.97,-0.558 A0.97,0.97 0 0 1 -0.97,-0.558 L-1.3,-1.431 Z" fill="#20d010"/>
<path d="M-1.3,-2.40 H1.3 V-1.624 L0.93,-0.787 A0.93,0.93 0 0 1 -0.93,-0.787 L-1.3,-1.624 Z" fill="#f0f000"/>
<path d="M-1.3,-2.40 H1.3 V-1.852 L0.88,-1.060 A0.88,0.88 0 0 1 -0.88,-1.060 L-1.3,-1.852 Z" fill="#ff9000"/>
<path d="M-1.3,-2.40 H1.3 V-1.977 L0.84,-1.221 A0.84,0.84 0 0 1 -0.84,-1.221 L-1.3,-1.977 Z" fill="url(#redg)"/>
</g></g>
<g transform="matrix(15.00,0.60,0.20,7.60,132.50,212.40)"><g clip-path="url(#dc8)">
<rect x="-1.2" y="-2.27" width="2.4" height="3.47" fill="#3010a0"/>
<path d="M-1.3,-2.37 H1.3 V-1.007 L1.03,-0.080 A1.03,1.03 0 0 1 -1.03,-0.080 L-1.3,-1.007 Z" fill="#1020e0"/>
<path d="M-1.3,-2.37 H1.3 V-1.219 L1.00,-0.319 A1.00,1.00 0 0 1 -1.00,-0.319 L-1.3,-1.219 Z" fill="#00c8f0"/>
<path d="M-1.3,-2.37 H1.3 V-1.426 L0.97,-0.553 A0.97,0.97 0 0 1 -0.97,-0.553 L-1.3,-1.426 Z" fill="#20d010"/>
<path d="M-1.3,-2.37 H1.3 V-1.617 L0.93,-0.780 A0.93,0.93 0 0 1 -0.93,-0.780 L-1.3,-1.617 Z" fill="#f0f000"/>
<path d="M-1.3,-2.37 H1.3 V-1.842 L0.88,-1.050 A0.88,0.88 0 0 1 -0.88,-1.050 L-1.3,-1.842 Z" fill="#ff9000"/>
<path d="M-1.3,-2.37 H1.3 V-1.966 L0.84,-1.210 A0.84,0.84 0 0 1 -0.84,-1.210 L-1.3,-1.966 Z" fill="url(#redg)"/>
</g></g>
<g transform="matrix(15.00,0.60,0.20,7.60,215.50,212.40)"><g clip-path="url(#dc9)">
<rect x="-1.2" y="-2.27" width="2.4" height="3.47" fill="#3010a0"/>
<path d="M-1.3,-2.37 H1.3 V-1.007 L1.03,-0.080 A1.03,1.03 0 0 1 -1.03,-0.080 L-1.3,-1.007 Z" fill="#1020e0"/>
<path d="M-1.3,-2.37 H1.3 V-1.219 L1.00,-0.319 A1.00,1.00 0 0 1 -1.00,-0.319 L-1.3,-1.219 Z" fill="#00c8f0"/>
<path d="M-1.3,-2.37 H1.3 V-1.426 L0.97,-0.553 A0.97,0.97 0 0 1 -0.97,-0.553 L-1.3,-1.426 Z" fill="#20d010"/>
<path d="M-1.3,-2.37 H1.3 V-1.617 L0.93,-0.780 A0.93,0.93 0 0 1 -0.93,-0.780 L-1.3,-1.617 Z" fill="#f0f000"/>
<path d="M-1.3,-2.37 H1.3 V-1.842 L0.88,-1.050 A0.88,0.88 0 0 1 -0.88,-1.050 L-1.3,-1.842 Z" fill="#ff9000"/>
<path d="M-1.3,-2.37 H1.3 V-1.966 L0.84,-1.210 A0.84,0.84 0 0 1 -0.84,-1.210 L-1.3,-1.966 Z" fill="url(#redg)"/>
</g></g>
<g clip-path="url(#pc1)">
<polygon points="310.4,69.8 315.3,72.0 327.3,65.1 327.3,60.0 326.3,57.7 323.8,56.4 317.2,55.1 315.4,56.3 312.6,62.3" fill="#3010a0"/>
<polygon points="304.4,66.6 333.3,79.3 333.3,39.3 304.4,26.6" fill="#1020e0"/>
<polygon points="304.4,64.6 333.3,77.3 333.3,37.3 304.4,24.6" fill="#00c8f0"/>
<polygon points="304.4,63.7 333.3,76.4 333.3,36.4 304.4,23.7" fill="#20d010"/>
<polygon points="304.4,61.8 333.3,74.5 333.3,34.5 304.4,21.8" fill="#f0f000"/>
<polygon points="304.4,59.9 333.3,72.6 333.3,32.6 304.4,19.9" fill="#ff9000"/>
<polygon points="304.4,58.4 333.3,71.1 333.3,31.1 304.4,18.4" fill="#ff2008"/>
<polygon points="304.4,55.7 333.3,68.4 333.3,28.4 304.4,15.7" fill="#e81008"/>
<polygon points="304.4,53.8 333.3,66.5 333.3,26.5 304.4,13.8" fill="#b80000"/>
<g clip-path="url(#pf1)">
<polygon points="315.3,72.0 327.3,65.1 327.3,60.0 326.3,57.7 323.8,56.4 321.3,58.2 317.8,63.8 315.6,69.0" fill="#3010a0"/>
<polygon points="312.3,72.7 331.3,61.8 331.3,21.8 312.3,32.7" fill="#1020e0"/>
<polygon points="312.3,70.9 331.3,60.0 331.3,20.0 312.3,30.9" fill="#00c8f0"/>
<polygon points="312.3,70.0 331.3,59.1 331.3,19.1 312.3,30.0" fill="#20d010"/>
<polygon points="312.3,68.1 331.3,57.2 331.3,17.2 312.3,28.1" fill="#f0f000"/>
<polygon points="312.3,66.2 331.3,55.3 331.3,15.3 312.3,26.2" fill="#ff9000"/>
<polygon points="312.3,64.7 331.3,53.8 331.3,13.8 312.3,24.7" fill="#f01808"/>
<polygon points="312.3,61.5 331.3,50.6 331.3,10.6 312.3,21.5" fill="#c00400"/>
</g></g>
<g clip-path="url(#pc2)">
<polygon points="389.0,67.5 397.0,71.0 409.0,64.1 409.0,59.0 408.0,56.7 405.5,55.4 395.8,52.8 394.0,54.0 391.2,60.0" fill="#3010a0"/>
<polygon points="383.0,64.2 415.0,78.3 415.0,38.3 383.0,24.2" fill="#1020e0"/>
<polygon points="383.0,62.2 415.0,76.3 415.0,36.3 383.0,22.2" fill="#00c8f0"/>
<polygon points="383.0,61.3 415.0,75.4 415.0,35.4 383.0,21.3" fill="#20d010"/>
<polygon points="383.0,59.4 415.0,73.5 415.0,33.5 383.0,19.4" fill="#f0f000"/>
<polygon points="383.0,57.5 415.0,71.6 415.0,31.6 383.0,17.5" fill="#ff9000"/>
<polygon points="383.0,56.0 415.0,70.1 415.0,30.1 383.0,16.0" fill="#ff2008"/>
<polygon points="383.0,53.3 415.0,67.4 415.0,27.4 383.0,13.3" fill="#e81008"/>
<polygon points="383.0,51.4 415.0,65.5 415.0,25.5 383.0,11.4" fill="#b80000"/>
<g clip-path="url(#pf2)">
<polygon points="397.0,71.0 409.0,64.1 409.0,59.0 408.0,56.7 405.5,55.4 403.0,57.2 399.5,62.8 397.3,68.0" fill="#3010a0"/>
<polygon points="394.0,71.7 413.0,60.8 413.0,20.8 394.0,31.7" fill="#1020e0"/>
<polygon points="394.0,69.9 413.0,59.0 413.0,19.0 394.0,29.9" fill="#00c8f0"/>
<polygon points="394.0,69.0 413.0,58.1 413.0,18.1 394.0,29.0" fill="#20d010"/>
<polygon points="394.0,67.1 413.0,56.2 413.0,16.2 394.0,27.1" fill="#f0f000"/>
<polygon points="394.0,65.2 413.0,54.3 413.0,14.3 394.0,25.2" fill="#ff9000"/>
<polygon points="394.0,63.7 413.0,52.8 413.0,12.8 394.0,23.7" fill="#f01808"/>
<polygon points="394.0,60.5 413.0,49.6 413.0,9.6 394.0,20.5" fill="#c00400"/>
</g></g>
<g clip-path="url(#pc3)">
<polygon points="469.0,66.3 482.0,72.0 494.0,65.1 494.0,60.0 493.0,57.7 490.5,56.4 475.8,51.6 474.0,52.8 471.2,58.8" fill="#3010a0"/>
<polygon points="463.0,63.0 500.0,79.3 500.0,39.3 463.0,23.0" fill="#1020e0"/>
<polygon points="463.0,61.0 500.0,77.3 500.0,37.3 463.0,21.0" fill="#00c8f0"/>
<polygon points="463.0,60.1 500.0,76.4 500.0,36.4 463.0,20.1" fill="#20d010"/>
<polygon points="463.0,58.2 500.0,74.5 500.0,34.5 463.0,18.2" fill="#f0f000"/>
<polygon points="463.0,56.3 500.0,72.6 500.0,32.6 463.0,16.3" fill="#ff9000"/>
<polygon points="463.0,54.8 500.0,71.1 500.0,31.1 463.0,14.8" fill="#ff2008"/>
<polygon points="463.0,52.1 500.0,68.4 500.0,28.4 463.0,12.1" fill="#e81008"/>
<polygon points="463.0,50.2 500.0,66.5 500.0,26.5 463.0,10.2" fill="#b80000"/>
<g clip-path="url(#pf3)">
<polygon points="482.0,72.0 494.0,65.1 494.0,60.0 493.0,57.7 490.5,56.4 488.0,58.2 484.5,63.8 482.3,69.0" fill="#3010a0"/>
<polygon points="479.0,72.7 498.0,61.8 498.0,21.8 479.0,32.7" fill="#1020e0"/>
<polygon points="479.0,70.9 498.0,60.0 498.0,20.0 479.0,30.9" fill="#00c8f0"/>
<polygon points="479.0,70.0 498.0,59.1 498.0,19.1 479.0,30.0" fill="#20d010"/>
<polygon points="479.0,68.1 498.0,57.2 498.0,17.2 479.0,28.1" fill="#f0f000"/>
<polygon points="479.0,66.2 498.0,55.3 498.0,15.3 479.0,26.2" fill="#ff9000"/>
<polygon points="479.0,64.7 498.0,53.8 498.0,13.8 479.0,24.7" fill="#f01808"/>
<polygon points="479.0,61.5 498.0,50.6 498.0,10.6 479.0,21.5" fill="#c00400"/>
</g></g>
<g clip-path="url(#pc4)">
<polygon points="297.0,139.8 313.3,147.0 325.3,140.1 325.3,135.0 324.3,132.7 321.8,131.4 303.8,125.1 302.0,126.3 299.2,132.3" fill="#3010a0"/>
<polygon points="291.0,136.6 331.3,154.3 331.3,114.3 291.0,96.6" fill="#1020e0"/>
<polygon points="291.0,134.6 331.3,152.3 331.3,112.3 291.0,94.6" fill="#00c8f0"/>
<polygon points="291.0,133.7 331.3,151.4 331.3,111.4 291.0,93.7" fill="#20d010"/>
<polygon points="291.0,131.8 331.3,149.5 331.3,109.5 291.0,91.8" fill="#f0f000"/>
<polygon points="291.0,129.9 331.3,147.6 331.3,107.6 291.0,89.9" fill="#ff9000"/>
<polygon points="291.0,128.4 331.3,146.1 331.3,106.1 291.0,88.4" fill="#ff2008"/>
<polygon points="291.0,125.7 331.3,143.4 331.3,103.4 291.0,85.7" fill="#e81008"/>
<polygon points="291.0,123.8 331.3,141.5 331.3,101.5 291.0,83.8" fill="#b80000"/>
<g clip-path="url(#pf4)">
<polygon points="313.3,147.0 325.3,140.1 325.3,135.0 324.3,132.7 321.8,131.4 319.3,133.2 315.8,138.8 313.6,144.0" fill="#3010a0"/>
<polygon points="310.3,147.7 329.3,136.8 329.3,96.8 310.3,107.7" fill="#1020e0"/>
<polygon points="310.3,145.9 329.3,135.0 329.3,95.0 310.3,105.9" fill="#00c8f0"/>
<polygon points="310.3,145.0 329.3,134.1 329.3,94.1 310.3,105.0" fill="#20d010"/>
<polygon points="310.3,143.1 329.3,132.2 329.3,92.2 310.3,103.1" fill="#f0f000"/>
<polygon points="310.3,141.2 329.3,130.3 329.3,90.3 310.3,101.2" fill="#ff9000"/>
<polygon points="310.3,139.7 329.3,128.8 329.3,88.8 310.3,99.7" fill="#f01808"/>
<polygon points="310.3,136.5 329.3,125.6 329.3,85.6 310.3,96.5" fill="#c00400"/>
</g></g>
<g clip-path="url(#pc5)">
<polygon points="376.3,136.9 397.0,146.0 409.0,139.1 409.0,134.0 408.0,131.7 405.5,130.4 383.1,122.2 381.3,123.4 378.5,129.4" fill="#3010a0"/>
<polygon points="370.3,133.7 415.0,153.3 415.0,113.3 370.3,93.7" fill="#1020e0"/>
<polygon points="370.3,131.7 415.0,151.3 415.0,111.3 370.3,91.7" fill="#00c8f0"/>
<polygon points="370.3,130.8 415.0,150.4 415.0,110.4 370.3,90.8" fill="#20d010"/>
<polygon points="370.3,128.9 415.0,148.5 415.0,108.5 370.3,88.9" fill="#f0f000"/>
<polygon points="370.3,127.0 415.0,146.6 415.0,106.6 370.3,87.0" fill="#ff9000"/>
<polygon points="370.3,125.5 415.0,145.1 415.0,105.1 370.3,85.5" fill="#ff2008"/>
<polygon points="370.3,122.8 415.0,142.4 415.0,102.4 370.3,82.8" fill="#e81008"/>
<polygon points="370.3,120.9 415.0,140.5 415.0,100.5 370.3,80.9" fill="#b80000"/>
<g clip-path="url(#pf5)">
<polygon points="397.0,146.0 409.0,139.1 409.0,134.0 408.0,131.7 405.5,130.4 403.0,132.2 399.5,137.8 397.3,143.0" fill="#3010a0"/>
<polygon points="394.0,146.7 413.0,135.8 413.0,95.8 394.0,106.7" fill="#1020e0"/>
<polygon points="394.0,144.9 413.0,134.0 413.0,94.0 394.0,104.9" fill="#00c8f0"/>
<polygon points="394.0,144.0 413.0,133.1 413.0,93.1 394.0,104.0" fill="#20d010"/>
<polygon points="394.0,142.1 413.0,131.2 413.0,91.2 394.0,102.1" fill="#f0f000"/>
<polygon points="394.0,140.2 413.0,129.3 413.0,89.3 394.0,100.2" fill="#ff9000"/>
<polygon points="394.0,138.7 413.0,127.8 413.0,87.8 394.0,98.7" fill="#f01808"/>
<polygon points="394.0,135.5 413.0,124.6 413.0,84.6 394.0,95.5" fill="#c00400"/>
</g></g>
<g clip-path="url(#pc6)">
<polygon points="457.7,135.3 482.0,146.0 494.0,139.1 494.0,134.0 493.0,131.7 490.5,130.4 464.5,120.6 462.7,121.8 459.9,127.8" fill="#3010a0"/>
<polygon points="451.7,132.1 500.0,153.3 500.0,113.3 451.7,92.1" fill="#1020e0"/>
<polygon points="451.7,130.1 500.0,151.3 500.0,111.3 451.7,90.1" fill="#00c8f0"/>
<polygon points="451.7,129.2 500.0,150.4 500.0,110.4 451.7,89.2" fill="#20d010"/>
<polygon points="451.7,127.3 500.0,148.5 500.0,108.5 451.7,87.3" fill="#f0f000"/>
<polygon points="451.7,125.4 500.0,146.6 500.0,106.6 451.7,85.4" fill="#ff9000"/>
<polygon points="451.7,123.9 500.0,145.1 500.0,105.1 451.7,83.9" fill="#ff2008"/>
<polygon points="451.7,121.2 500.0,142.4 500.0,102.4 451.7,81.2" fill="#e81008"/>
<polygon points="451.7,119.3 500.0,140.5 500.0,100.5 451.7,79.3" fill="#b80000"/>
<g clip-path="url(#pf6)">
<polygon points="482.0,146.0 494.0,139.1 494.0,134.0 493.0,131.7 490.5,130.4 488.0,132.2 484.5,137.8 482.3,143.0" fill="#3010a0"/>
<polygon points="479.0,146.7 498.0,135.8 498.0,95.8 479.0,106.7" fill="#1020e0"/>
<polygon points="479.0,144.9 498.0,134.0 498.0,94.0 479.0,104.9" fill="#00c8f0"/>
<polygon points="479.0,144.0 498.0,133.1 498.0,93.1 479.0,104.0" fill="#20d010"/>
<polygon points="479.0,142.1 498.0,131.2 498.0,91.2 479.0,102.1" fill="#f0f000"/>
<polygon points="479.0,140.2 498.0,129.3 498.0,89.3 479.0,100.2" fill="#ff9000"/>
<polygon points="479.0,138.7 498.0,127.8 498.0,87.8 479.0,98.7" fill="#f01808"/>
<polygon points="479.0,135.5 498.0,124.6 498.0,84.6 479.0,95.5" fill="#c00400"/>
</g></g>
<g clip-path="url(#pc7)">
<polygon points="288.0,211.1 316.8,223.8 328.8,216.8 328.8,211.8 327.8,209.4 325.2,208.2 294.8,196.4 293.0,197.6 290.2,203.6" fill="#3010a0"/>
<polygon points="282.0,207.9 334.8,231.1 334.8,191.1 282.0,167.9" fill="#1020e0"/>
<polygon points="282.0,205.9 334.8,229.1 334.8,189.1 282.0,165.9" fill="#00c8f0"/>
<polygon points="282.0,205.0 334.8,228.2 334.8,188.2 282.0,165.0" fill="#20d010"/>
<polygon points="282.0,203.1 334.8,226.3 334.8,186.3 282.0,163.1" fill="#f0f000"/>
<polygon points="282.0,201.2 334.8,224.4 334.8,184.4 282.0,161.2" fill="#ff9000"/>
<polygon points="282.0,199.7 334.8,222.9 334.8,182.9 282.0,159.7" fill="#ff2008"/>
<polygon points="282.0,197.0 334.8,220.2 334.8,180.2 282.0,157.0" fill="#e81008"/>
<polygon points="282.0,195.1 334.8,218.3 334.8,178.3 282.0,155.1" fill="#b80000"/>
<g clip-path="url(#pf7)">
<polygon points="316.8,223.8 328.8,216.8 328.8,211.8 327.8,209.4 325.2,208.2 322.8,209.9 319.2,215.6 317.1,220.8" fill="#3010a0"/>
<polygon points="313.8,224.5 332.8,213.6 332.8,173.6 313.8,184.5" fill="#1020e0"/>
<polygon points="313.8,222.7 332.8,211.8 332.8,171.8 313.8,182.7" fill="#00c8f0"/>
<polygon points="313.8,221.8 332.8,210.9 332.8,170.9 313.8,181.8" fill="#20d010"/>
<polygon points="313.8,219.9 332.8,209.0 332.8,169.0 313.8,179.9" fill="#f0f000"/>
<polygon points="313.8,218.0 332.8,207.1 332.8,167.1 313.8,178.0" fill="#ff9000"/>
<polygon points="313.8,216.5 332.8,205.6 332.8,165.6 313.8,176.5" fill="#f01808"/>
<polygon points="313.8,213.3 332.8,202.4 332.8,162.4 313.8,173.3" fill="#c00400"/>
</g></g>
<g clip-path="url(#pc8)">
<polygon points="367.0,209.3 399.0,223.4 411.0,216.5 411.0,211.4 410.0,209.1 407.5,207.8 373.8,194.6 372.0,195.8 369.2,201.8" fill="#3010a0"/>
<polygon points="361.0,206.1 417.0,230.7 417.0,190.7 361.0,166.1" fill="#1020e0"/>
<polygon points="361.0,204.1 417.0,228.7 417.0,188.7 361.0,164.1" fill="#00c8f0"/>
<polygon points="361.0,203.2 417.0,227.8 417.0,187.8 361.0,163.2" fill="#20d010"/>
<polygon points="361.0,201.3 417.0,225.9 417.0,185.9 361.0,161.3" fill="#f0f000"/>
<polygon points="361.0,199.4 417.0,224.0 417.0,184.0 361.0,159.4" fill="#ff9000"/>
<polygon points="361.0,197.9 417.0,222.5 417.0,182.5 361.0,157.9" fill="#ff2008"/>
<polygon points="361.0,195.2 417.0,219.8 417.0,179.8 361.0,155.2" fill="#e81008"/>
<polygon points="361.0,193.3 417.0,217.9 417.0,177.9 361.0,153.3" fill="#b80000"/>
<g clip-path="url(#pf8)">
<polygon points="399.0,223.4 411.0,216.5 411.0,211.4 410.0,209.1 407.5,207.8 405.0,209.6 401.5,215.2 399.3,220.4" fill="#3010a0"/>
<polygon points="396.0,224.1 415.0,213.2 415.0,173.2 396.0,184.1" fill="#1020e0"/>
<polygon points="396.0,222.3 415.0,211.4 415.0,171.4 396.0,182.3" fill="#00c8f0"/>
<polygon points="396.0,221.4 415.0,210.5 415.0,170.5 396.0,181.4" fill="#20d010"/>
<polygon points="396.0,219.5 415.0,208.6 415.0,168.6 396.0,179.5" fill="#f0f000"/>
<polygon points="396.0,217.6 415.0,206.7 415.0,166.7 396.0,177.6" fill="#ff9000"/>
<polygon points="396.0,216.1 415.0,205.2 415.0,165.2 396.0,176.1" fill="#f01808"/>
<polygon points="396.0,212.9 415.0,202.0 415.0,162.0 396.0,172.9" fill="#c00400"/>
</g></g>
<g clip-path="url(#pc9)">
<polygon points="450.0,207.1 485.5,222.7 497.5,215.8 497.5,210.7 496.5,208.4 494.0,207.1 456.8,192.4 455.0,193.6 452.2,199.6" fill="#3010a0"/>
<polygon points="444.0,203.8 503.5,230.0 503.5,190.0 444.0,163.8" fill="#1020e0"/>
<polygon points="444.0,201.8 503.5,228.0 503.5,188.0 444.0,161.8" fill="#00c8f0"/>
<polygon points="444.0,200.9 503.5,227.1 503.5,187.1 444.0,160.9" fill="#20d010"/>
<polygon points="444.0,199.0 503.5,225.2 503.5,185.2 444.0,159.0" fill="#f0f000"/>
<polygon points="444.0,197.1 503.5,223.3 503.5,183.3 444.0,157.1" fill="#ff9000"/>
<polygon points="444.0,195.6 503.5,221.8 503.5,181.8 444.0,155.6" fill="#ff2008"/>
<polygon points="444.0,192.9 503.5,219.1 503.5,179.1 444.0,152.9" fill="#e81008"/>
<polygon points="444.0,191.0 503.5,217.2 503.5,177.2 444.0,151.0" fill="#b80000"/>
<g clip-path="url(#pf9)">
<polygon points="485.5,222.7 497.5,215.8 497.5,210.7 496.5,208.4 494.0,207.1 491.5,208.9 488.0,214.5 485.8,219.7" fill="#3010a0"/>
<polygon points="482.5,223.4 501.5,212.5 501.5,172.5 482.5,183.4" fill="#1020e0"/>
<polygon points="482.5,221.6 501.5,210.7 501.5,170.7 482.5,181.6" fill="#00c8f0"/>
<polygon points="482.5,220.7 501.5,209.8 501.5,169.8 482.5,180.7" fill="#20d010"/>
<polygon points="482.5,218.8 501.5,207.9 501.5,167.9 482.5,178.8" fill="#f0f000"/>
<polygon points="482.5,216.9 501.5,206.0 501.5,166.0 482.5,176.9" fill="#ff9000"/>
<polygon points="482.5,215.4 501.5,204.5 501.5,164.5 482.5,175.4" fill="#f01808"/>
<polygon points="482.5,212.2 501.5,201.3 501.5,161.3 482.5,172.2" fill="#c00400"/>
</g></g>
<text x="33.00" y="36.20" font-size="12.90" font-weight="bold" fill="#111" textLength="21.98" lengthAdjust="spacingAndGlyphs">4µs</text>
<text x="118.40" y="35.30" font-size="12.46" font-weight="bold" fill="#111" textLength="21.18" lengthAdjust="spacingAndGlyphs">8µs</text>
<text x="198.00" y="36.20" font-size="12.03" font-weight="bold" fill="#111" textLength="30.00" lengthAdjust="spacingAndGlyphs">12µs</text>
<text x="30.00" y="111.00" font-size="12.17" font-weight="bold" fill="#111" textLength="30.00" lengthAdjust="spacingAndGlyphs">16µs</text>
<text x="113.60" y="111.00" font-size="13.33" font-weight="bold" fill="#111" textLength="29.70" lengthAdjust="spacingAndGlyphs">20µs</text>
<text x="197.00" y="111.00" font-size="13.33" font-weight="bold" fill="#111" textLength="30.00" lengthAdjust="spacingAndGlyphs">24µs</text>
<text x="30.00" y="190.00" font-size="12.46" font-weight="bold" fill="#111" textLength="30.00" lengthAdjust="spacingAndGlyphs">28µs</text>
<text x="114.60" y="189.50" font-size="13.04" font-weight="bold" fill="#111" textLength="29.40" lengthAdjust="spacingAndGlyphs">32µs</text>
<text x="197.70" y="189.50" font-size="13.04" font-weight="bold" fill="#111" textLength="30.30" lengthAdjust="spacingAndGlyphs">36µs</text>
<text x="288.00" y="35.60" font-size="12.46" font-weight="bold" fill="#111" textLength="20.98" lengthAdjust="spacingAndGlyphs">4µs</text>
<text x="373.60" y="33.00" font-size="13.04" font-weight="bold" fill="#111" textLength="21.18" lengthAdjust="spacingAndGlyphs">8µs</text>
<text x="455.00" y="32.70" font-size="12.61" font-weight="bold" fill="#111" textLength="28.50" lengthAdjust="spacingAndGlyphs">12µs</text>
<text x="285.00" y="112.50" font-size="12.68" font-weight="bold" fill="#111" textLength="28.75" lengthAdjust="spacingAndGlyphs">16µs</text>
<text x="367.70" y="113.50" font-size="13.19" font-weight="bold" fill="#111" textLength="29.30" lengthAdjust="spacingAndGlyphs">20µs</text>
<text x="452.50" y="113.50" font-size="13.77" font-weight="bold" fill="#111" textLength="29.50" lengthAdjust="spacingAndGlyphs">24µs</text>
<text x="286.00" y="191.00" font-size="13.04" font-weight="bold" fill="#111" textLength="29.00" lengthAdjust="spacingAndGlyphs">28µs</text>
<text x="367.70" y="190.50" font-size="13.77" font-weight="bold" fill="#111" textLength="29.30" lengthAdjust="spacingAndGlyphs">32µs</text>
<text x="454.00" y="190.50" font-size="13.77" font-weight="bold" fill="#111" textLength="29.60" lengthAdjust="spacingAndGlyphs">36µs</text>
<polygon points="48.7,314.3 101.7,283.8 394,283.8 442,314 48.7,314.3" fill="url(#planeg)"/>
<polygon points="50.5,313.2 441,313 442,314.2 48.7,314.4" fill="#42149a"/>
<path d="M41.5,313.8 L60,313.8" stroke="#4a1a90" stroke-width="1" fill="none"/>
<path d="M45,311.6 L41.2,313.8 L45,316" stroke="#4a1a90" stroke-width="0.9" fill="none"/>
<polygon points="128.4,286.7 163.8,286.7 144.6,309.2 100.2,309.2" fill="#fff"/>
<polygon points="198.2,286.7 231,286.7 230,309.2 186.3,309.2" fill="#fff"/>
<polygon points="265,286.7 296.3,286.7 313,309.2 272.8,309.2" fill="#fff"/>
<polygon points="339.3,286.7 370.6,286.7 395,309.5 354.5,309.5" fill="#fff"/>
<line x1="97.5" y1="314.0" x2="92.8" y2="318.6" stroke="#4a1a90" stroke-width="1.1"/>
<line x1="185.8" y1="312.5" x2="182.2" y2="318.3" stroke="#4a1a90" stroke-width="1.1"/>
<line x1="273.0" y1="312.5" x2="276.0" y2="318.6" stroke="#4a1a90" stroke-width="1.1"/>
<line x1="355.5" y1="312.5" x2="360.8" y2="318.6" stroke="#4a1a90" stroke-width="1.1"/>
<line x1="440.5" y1="313.0" x2="448.2" y2="317.6" stroke="#4a1a90" stroke-width="1.1"/>
<path d="M83.4,298 C83.6,292 85,288 86.5,283 C88,276 91,269.6 97,269.6 C103,269.6 105.5,276 107.5,282 C109.5,288 112.5,292 113,297 C113.4,302 108,304.6 99,304.8 C90,305 83.4,303 83.4,298 Z" fill="url(#humpg)"/>
<path d="M170.8,270.4 L185.5,270.4 L186.5,286 L188.5,300 Q176,303.5 161.5,300.5 L165.5,289.3 Z" fill="url(#blkg)"/>
<path d="M181.8,270.4 L185.5,270.4 L186.5,286 L188.5,300 L183,301 Z" fill="url(#blks)"/>
<path d="M238,279 L239,275.5 L241.7,274.6 L244,277 L246.5,273.5 L248.5,275.5 L250.2,271.6 L252.5,275.5 L255,273.5 L257,277 L258.6,274.6 L260.2,276 L260.7,279 L260.9,294.5 A11.5,4.8 0 0 1 237.8,294.5 Z" fill="url(#cylg)"/>
<ellipse cx="250" cy="279.2" rx="8.6" ry="2.8" fill="#38b818"/>
<ellipse cx="250.4" cy="279" rx="4.6" ry="2.6" fill="#f4d000"/>
<ellipse cx="250.6" cy="279.3" rx="2.4" ry="1.6" fill="#ff9800"/>
<path d="M238,279.4 A11.4,3.8 0 0 0 260.8,279.4 L260.8,281.2 A11.4,3.8 0 0 1 238,281.2 Z" fill="#a8e800"/>
<path d="M326,274 L401.5,278.3 C404.5,278.8 406,283 406.8,292 L409,303.5 L323,301.5 L321.6,292 C320.8,286 321.5,277 326,274 Z" fill="url(#colg)"/>
<line x1="369" y1="254.3" x2="402" y2="291.3" stroke="#f04418" stroke-width="1.8" stroke-dasharray="3.4 1.2 1.3 1.2"/>
<path d="M361,271 L364.4,267 L367.3,269.3 L382.9,269.3 L384.6,273.4 L374.8,273.4 L374.2,276.3 Z" fill="none" stroke="#e4583a" stroke-width="0.8"/>
<text x="9.00" y="252.46" font-size="14.01" font-weight="bold" fill="#111" textLength="16.43" lengthAdjust="spacingAndGlyphs">(a)</text>
<text x="8.80" y="337.61" font-size="15.19" font-weight="bold" fill="#111" textLength="17.03" lengthAdjust="spacingAndGlyphs">(b)</text>
<text x="95.50" y="260.84" font-size="16.00" font-weight="bold" fill="#111" textLength="7.58" lengthAdjust="spacingAndGlyphs">a</text>
<text x="175.00" y="260.84" font-size="15.65" font-weight="bold" fill="#111" textLength="8.51" lengthAdjust="spacingAndGlyphs">b</text>
<text x="247.50" y="260.84" font-size="16.00" font-weight="bold" fill="#111" textLength="7.32" lengthAdjust="spacingAndGlyphs">c</text>
<text x="335.20" y="260.84" font-size="15.65" font-weight="bold" fill="#111" textLength="8.81" lengthAdjust="spacingAndGlyphs">d</text>
<text x="42.50" y="329.56" font-size="13.64" font-weight="normal" fill="#111" textLength="16.98" lengthAdjust="spacingAndGlyphs">ms</text>
<text x="87.20" y="335.06" font-size="14.37" font-weight="normal" fill="#111" textLength="7.42" lengthAdjust="spacingAndGlyphs">8</text>
<text x="179.80" y="334.56" font-size="13.94" font-weight="normal" fill="#111" textLength="7.62" lengthAdjust="spacingAndGlyphs">6</text>
<text x="270.80" y="334.40" font-size="14.20" font-weight="normal" fill="#111" textLength="8.02" lengthAdjust="spacingAndGlyphs">4</text>
<text x="359.00" y="334.40" font-size="14.00" font-weight="normal" fill="#111" textLength="6.81" lengthAdjust="spacingAndGlyphs">2</text>
<text x="446.30" y="331.67" font-size="12.96" font-weight="normal" fill="#111" textLength="7.22" lengthAdjust="spacingAndGlyphs">0</text>
<rect x="456" y="258.5" width="17.7" height="53.8" fill="url(#depthg)"/>
<text x="451.70" y="248.70" font-size="9.86" font-weight="bold" fill="#111" textLength="52.72" lengthAdjust="spacingAndGlyphs">Depth (cm)</text>
<text x="483.30" y="261.82" font-size="8.17" font-weight="bold" fill="#111" textLength="9.90" lengthAdjust="spacingAndGlyphs" stroke="#111" stroke-width="0.25">1.0</text>
<text x="483.30" y="276.22" font-size="8.17" font-weight="bold" fill="#111" textLength="9.90" lengthAdjust="spacingAndGlyphs" stroke="#111" stroke-width="0.25">0.8</text>
<text x="483.30" y="295.82" font-size="8.17" font-weight="bold" fill="#111" textLength="9.90" lengthAdjust="spacingAndGlyphs" stroke="#111" stroke-width="0.25">0.4</text>
<text x="483.30" y="315.12" font-size="8.17" font-weight="bold" fill="#111" textLength="9.90" lengthAdjust="spacingAndGlyphs" stroke="#111" stroke-width="0.25">0.0</text>
<rect x="9.3" y="349.7" width="81.9" height="77.6" fill="#44048e"/>
<rect x="95.5" y="351.7" width="13.5" height="73.3" fill="url(#errg)"/>
<text x="90.30" y="345.84" font-size="7.91" font-weight="bold" fill="#111" textLength="31.70" lengthAdjust="spacingAndGlyphs" stroke="#111" stroke-width="0.2">Error(mm)</text>
<text x="112.00" y="353.74" font-size="5.92" font-weight="bold" fill="#111" textLength="10.01" lengthAdjust="spacingAndGlyphs" stroke="#111" stroke-width="0.3">0.19</text>
<text x="112.00" y="368.54" font-size="5.92" font-weight="bold" fill="#111" textLength="10.01" lengthAdjust="spacingAndGlyphs" stroke="#111" stroke-width="0.3">0.16</text>
<text x="112.00" y="382.84" font-size="5.92" font-weight="bold" fill="#111" textLength="10.01" lengthAdjust="spacingAndGlyphs" stroke="#111" stroke-width="0.3">0.12</text>
<text x="112.00" y="397.64" font-size="5.92" font-weight="bold" fill="#111" textLength="10.01" lengthAdjust="spacingAndGlyphs" stroke="#111" stroke-width="0.3">0.08</text>
<text x="112.00" y="412.04" font-size="5.92" font-weight="bold" fill="#111" textLength="10.01" lengthAdjust="spacingAndGlyphs" stroke="#111" stroke-width="0.3">0.04</text>
<text x="112.00" y="427.04" font-size="5.92" font-weight="bold" fill="#111" textLength="10.01" lengthAdjust="spacingAndGlyphs" stroke="#111" stroke-width="0.3">0.00</text>
<text x="9.50" y="434.40" font-size="7.54" font-weight="bold" fill="#111" textLength="86.90" lengthAdjust="spacingAndGlyphs" stroke="#111" stroke-width="0.2">Error map of the hemisphere</text>
<g clip-path="url(#c1)"><ellipse cx="51.3" cy="389" rx="33" ry="32" fill="#0c28e4"/>
<g filter="url(#b2)">
<ellipse cx="52.5" cy="389" rx="13" ry="25" fill="#2410b8"/>
<ellipse cx="52.5" cy="387" rx="6.5" ry="17" fill="#400a98"/>
</g><g filter="url(#b15)">
<path d="M37,366 Q27,371 24.5,384 Q22,398 31,409 Q39,417 50,420" fill="none" stroke="#28cc20" stroke-width="11.5" stroke-linecap="round"/>
<ellipse cx="31" cy="372" rx="9" ry="7.5" fill="#28cc20" transform="rotate(-40 31 372)"/>
<path d="M52,359.5 Q60,358.5 68,363.5" fill="none" stroke="#30d020" stroke-width="4" stroke-linecap="round"/>
<path d="M74,372 Q79.5,382 78.5,394 Q77.5,404 73.5,408" fill="none" stroke="#28cc20" stroke-width="10.5" stroke-linecap="round"/>
</g><g filter="url(#b1)">
<ellipse cx="28.8" cy="370.5" rx="6" ry="3.8" fill="#e4f000" transform="rotate(-42 28.8 370.5)"/>
<path d="M21,384 Q20,394 27,404 Q32,402 29.5,392 Q27,384 21,384 Z" fill="#f8e400"/>
<ellipse cx="24.6" cy="392.5" rx="1.8" ry="4" fill="#ff9000"/>
<path d="M33,411 Q41,417.5 50,420.5 L42,422 Q35,418 33,411 Z" fill="#f4dc00"/>
<path d="M37,416 Q42,419 47,420.6 L42,421.5 Z" fill="#ff9800"/>
<path d="M53,358.5 Q60,357.3 67,361.5 L58,362 Z" fill="#d4f000"/>
<path d="M73.5,372 Q82,380 82,395 Q77,397 75,386 Q72,378 73.5,372 Z" fill="#f0e800"/>
<path d="M79.8,375 Q84,381 83.5,388.5 Q81,386.5 80.3,381 Z" fill="#ff3008"/>
<path d="M65,416.5 L71,414.5" stroke="#30a0f0" stroke-width="1" fill="none"/>
</g></g>
<rect x="135.5" y="349.5" width="81.8" height="78.0" fill="#44048e"/>
<rect x="222.4" y="352.3" width="13.6" height="73.4" fill="url(#errg)"/>
<text x="215.90" y="345.84" font-size="7.91" font-weight="bold" fill="#111" textLength="34.08" lengthAdjust="spacingAndGlyphs" stroke="#111" stroke-width="0.2">Error (mm)</text>
<text x="239.00" y="354.04" font-size="5.92" font-weight="bold" fill="#111" textLength="10.61" lengthAdjust="spacingAndGlyphs" stroke="#111" stroke-width="0.3">0.11</text>
<text x="239.00" y="369.04" font-size="5.92" font-weight="bold" fill="#111" textLength="10.61" lengthAdjust="spacingAndGlyphs" stroke="#111" stroke-width="0.3">0.09</text>
<text x="239.00" y="383.64" font-size="5.92" font-weight="bold" fill="#111" textLength="10.61" lengthAdjust="spacingAndGlyphs" stroke="#111" stroke-width="0.3">0.07</text>
<text x="239.00" y="398.04" font-size="5.92" font-weight="bold" fill="#111" textLength="10.61" lengthAdjust="spacingAndGlyphs" stroke="#111" stroke-width="0.3">0.05</text>
<text x="239.00" y="413.04" font-size="5.92" font-weight="bold" fill="#111" textLength="10.61" lengthAdjust="spacingAndGlyphs" stroke="#111" stroke-width="0.3">0.02</text>
<text x="239.00" y="427.74" font-size="5.92" font-weight="bold" fill="#111" textLength="10.61" lengthAdjust="spacingAndGlyphs" stroke="#111" stroke-width="0.3">0.00</text>
<text x="141.00" y="434.40" font-size="7.54" font-weight="bold" fill="#111" textLength="71.29" lengthAdjust="spacingAndGlyphs" stroke="#111" stroke-width="0.2">Error map of the plane</text>
<g clip-path="url(#c2)"><rect x="142.5" y="359" width="68.1" height="59.5" fill="#3410a8"/>
<g filter="url(#b2)">
<rect x="201" y="356" width="7.5" height="66" fill="#2a1cd0"/>
<rect x="188" y="356" width="6" height="40" fill="#2a1cd0"/>
<path d="M139,354 L191,354 Q187,372 180,386 Q173,398 171,422 L139,422 Z" fill="#1436f0"/>
</g><g filter="url(#b1)">
<path d="M141,355 L185,355 Q185,372 177,380 Q168,386 163.5,398 Q159.5,408 154.5,413 Q148,408 145,396 Q142.5,380 141,355 Z" fill="#20cc28"/>
</g><g filter="url(#b1)">
<path d="M142.5,356 L170,356 Q166,372 161.5,384 Q157.5,396 153,403 Q148.5,396 146,382 Q144,370 142.5,356 Z" fill="#f0f000"/>
<path d="M142.5,356 L164.5,356 Q160.5,372 157.5,382 Q154.5,391 152,393 Q148.5,386 146,374 Q144,366 142.5,356 Z" fill="#ff9000"/>
</g><g filter="url(#b3)">
<path d="M143,356 L160.5,356 Q157,370 154.5,378 Q152.5,385 151,385 Q148,378 145.5,368 Z" fill="#ff2408"/>
</g></g>
<rect x="261.5" y="349.5" width="82.5" height="78.0" fill="#44048e"/>
<rect x="349.8" y="353" width="12.9" height="73.0" fill="url(#errg)"/>
<text x="342.70" y="345.84" font-size="7.91" font-weight="bold" fill="#111" textLength="34.28" lengthAdjust="spacingAndGlyphs" stroke="#111" stroke-width="0.2">Error (mm)</text>
<text x="366.60" y="355.04" font-size="5.92" font-weight="bold" fill="#111" textLength="10.41" lengthAdjust="spacingAndGlyphs" stroke="#111" stroke-width="0.3">0.80</text>
<text x="366.60" y="370.04" font-size="5.92" font-weight="bold" fill="#111" textLength="10.41" lengthAdjust="spacingAndGlyphs" stroke="#111" stroke-width="0.3">0.64</text>
<text x="366.60" y="385.04" font-size="5.92" font-weight="bold" fill="#111" textLength="10.41" lengthAdjust="spacingAndGlyphs" stroke="#111" stroke-width="0.3">0.48</text>
<text x="366.60" y="399.54" font-size="5.92" font-weight="bold" fill="#111" textLength="10.41" lengthAdjust="spacingAndGlyphs" stroke="#111" stroke-width="0.3">0.32</text>
<text x="366.60" y="414.04" font-size="5.92" font-weight="bold" fill="#111" textLength="10.41" lengthAdjust="spacingAndGlyphs" stroke="#111" stroke-width="0.3">0.16</text>
<text x="366.60" y="428.74" font-size="5.92" font-weight="bold" fill="#111" textLength="10.41" lengthAdjust="spacingAndGlyphs" stroke="#111" stroke-width="0.3">0.00</text>
<text x="267.30" y="435.80" font-size="7.54" font-weight="bold" fill="#111" textLength="70.20" lengthAdjust="spacingAndGlyphs" stroke="#111" stroke-width="0.2">Error map of the wheel</text>
<g clip-path="url(#c3)"><ellipse cx="304.3" cy="389" rx="33.3" ry="35.6" fill="#1030ec"/>
<g filter="url(#b2)"><ellipse cx="303.5" cy="390" rx="10" ry="15" fill="#3a10a8"/><ellipse cx="277" cy="388" rx="3" ry="9" fill="#3810a8"/><ellipse cx="306" cy="419" rx="12" ry="4" fill="#2c14b8"/><ellipse cx="322" cy="372" rx="6" ry="5" fill="#2418c8"/></g>
<g filter="url(#b1)">
<ellipse cx="304.3" cy="389" rx="31" ry="33.2" fill="none" stroke="#38d820" stroke-width="4.6" stroke-dasharray="100 200" stroke-dashoffset="-108"/>
<path d="M275.5,402 Q281.5,414.5 298,421" fill="none" stroke="#30d020" stroke-width="8"/>
<ellipse cx="325" cy="411" rx="4.5" ry="4.5" fill="#28c830"/>
</g><g filter="url(#b3)">
<ellipse cx="304" cy="389.2" rx="17" ry="20.2" fill="none" stroke="#30d420" stroke-width="4"/>
<ellipse cx="304" cy="389.2" rx="17" ry="20.2" fill="none" stroke="#d0f000" stroke-width="1.6"/>
<path d="M319,378 Q322.5,389 319,401" fill="none" stroke="#f8d000" stroke-width="2.4"/>
<path d="M274.5,403 Q280.5,415.5 296,422" fill="none" stroke="#f0e000" stroke-width="3.6"/>
<path d="M275,405.5 Q278.5,412.5 285.5,417" fill="none" stroke="#ff3808" stroke-width="2.6"/>
<path d="M283,360.5 Q290,356 298,355" fill="none" stroke="#c8f000" stroke-width="1.6"/>
<path d="M329,366 Q333,371 335,377" fill="none" stroke="#c8f000" stroke-width="1.6"/>
</g></g>
<rect x="388.9" y="349.5" width="81.5" height="78.5" fill="#44048e"/>
<rect x="475.3" y="351" width="13.0" height="74.7" fill="url(#errg)"/>
<text x="470.00" y="344.14" font-size="7.91" font-weight="bold" fill="#111" textLength="33.98" lengthAdjust="spacingAndGlyphs" stroke="#111" stroke-width="0.2">Error (mm)</text>
<text x="492.00" y="353.04" font-size="5.92" font-weight="bold" fill="#111" textLength="10.31" lengthAdjust="spacingAndGlyphs" stroke="#111" stroke-width="0.3">0.25</text>
<text x="492.00" y="368.04" font-size="5.92" font-weight="bold" fill="#111" textLength="10.31" lengthAdjust="spacingAndGlyphs" stroke="#111" stroke-width="0.3">0.20</text>
<text x="492.00" y="383.04" font-size="5.92" font-weight="bold" fill="#111" textLength="10.31" lengthAdjust="spacingAndGlyphs" stroke="#111" stroke-width="0.3">0.15</text>
<text x="492.00" y="398.04" font-size="5.92" font-weight="bold" fill="#111" textLength="10.31" lengthAdjust="spacingAndGlyphs" stroke="#111" stroke-width="0.3">0.10</text>
<text x="492.00" y="413.04" font-size="5.92" font-weight="bold" fill="#111" textLength="10.31" lengthAdjust="spacingAndGlyphs" stroke="#111" stroke-width="0.3">0.05</text>
<text x="492.00" y="428.04" font-size="5.92" font-weight="bold" fill="#111" textLength="10.31" lengthAdjust="spacingAndGlyphs" stroke="#111" stroke-width="0.3">0.00</text>
<text x="391.20" y="435.50" font-size="7.68" font-weight="bold" fill="#111" textLength="76.32" lengthAdjust="spacingAndGlyphs" stroke="#111" stroke-width="0.2">Error map of the column</text>
<rect x="426" y="357.9" width="9" height="66.3" fill="#380a9c"/>
<rect x="418.4" y="357.9" width="8.8" height="66.3" fill="url(#bar1)"/>
<rect x="433.9" y="357.9" width="9.6" height="66.3" fill="url(#bar2)"/>
<g filter="url(#b3)"><path d="M440.3,358.5 L443.2,358.5 L443.6,424 L437.6,424 Z" fill="url(#wedge)"/></g>
</svg>
</body></html>
